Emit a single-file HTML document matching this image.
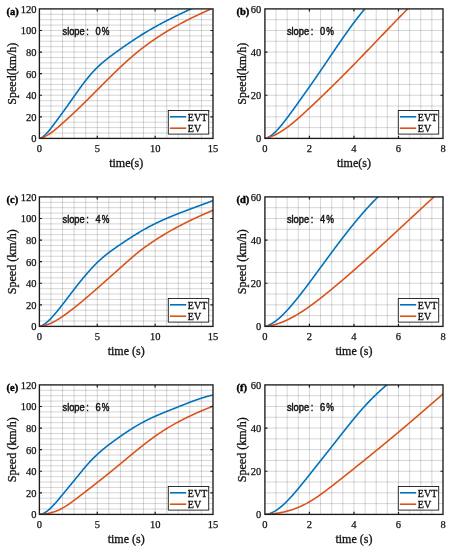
<!DOCTYPE html>
<html><head><meta charset="utf-8"><style>
*{margin:0;padding:0}
html,body{width:453px;height:550px;overflow:hidden;background:#fff}
svg{display:block;will-change:transform}
.tl{font-family:"Liberation Serif",serif;font-size:10.5px;fill:#111;stroke:#111;stroke-width:0.25px}
.al{font-family:"Liberation Serif",serif;font-size:12px;fill:#111;stroke:#111;stroke-width:0.3px}
.pl{font-family:"Liberation Serif",serif;font-size:10.5px;font-weight:bold;fill:#000;stroke:#000;stroke-width:0.4px}
.lg{font-family:"Liberation Serif",serif;font-size:10px;fill:#111;stroke:#111;stroke-width:0.3px}
.st{font-family:"Liberation Sans",sans-serif;font-size:10px;fill:#111;stroke:#111;stroke-width:0.45px}
</style></head>
<body><svg width="453" height="550" viewBox="0 0 453 550"><rect width="453" height="550" fill="#fff"/><clipPath id="c00"><rect x="39.4" y="8.9" width="173.6" height="129.5"/></clipPath><path d="M50.97 8.90V138.40M62.55 8.90V138.40M74.12 8.90V138.40M85.69 8.90V138.40M97.27 8.90V138.40M108.84 8.90V138.40M120.41 8.90V138.40M131.99 8.90V138.40M143.56 8.90V138.40M155.13 8.90V138.40M166.71 8.90V138.40M178.28 8.90V138.40M189.85 8.90V138.40M201.43 8.90V138.40" stroke="#000" stroke-opacity="0.165" stroke-width="1" fill="none"/><path d="M39.40 133.00H213.00M39.40 127.61H213.00M39.40 122.21H213.00M39.40 116.82H213.00M39.40 111.42H213.00M39.40 106.03H213.00M39.40 100.63H213.00M39.40 95.23H213.00M39.40 89.84H213.00M39.40 84.44H213.00M39.40 79.05H213.00M39.40 73.65H213.00M39.40 68.25H213.00M39.40 62.86H213.00M39.40 57.46H213.00M39.40 52.07H213.00M39.40 46.67H213.00M39.40 41.28H213.00M39.40 35.88H213.00M39.40 30.48H213.00M39.40 25.09H213.00M39.40 19.69H213.00M39.40 14.30H213.00" stroke="#000" stroke-opacity="0.165" stroke-width="1" fill="none"/><polyline points="39.40,138.40 39.81,138.30 40.21,138.18 40.62,138.03 41.02,137.85 41.43,137.65 41.84,137.43 42.24,137.18 42.65,136.91 43.05,136.62 43.46,136.31 43.87,135.99 44.27,135.64 44.68,135.28 45.09,134.90 45.49,134.51 45.90,134.10 46.30,133.68 46.71,133.24 47.12,132.80 47.52,132.34 47.93,131.87 48.33,131.39 48.74,130.91 49.15,130.42 49.55,129.92 49.96,129.42 50.36,128.91 50.77,128.39 51.18,127.88 51.58,127.35 51.99,126.83 52.39,126.29 52.80,125.76 53.21,125.23 53.61,124.69 54.02,124.15 54.43,123.60 54.83,123.06 55.24,122.51 55.64,121.97 56.05,121.42 56.46,120.88 56.86,120.33 57.27,119.78 57.67,119.24 58.08,118.69 58.49,118.14 58.89,117.59 59.30,117.04 59.70,116.49 60.11,115.94 60.52,115.39 60.92,114.84 61.33,114.28 61.73,113.73 62.14,113.18 62.55,112.62 62.95,112.06 63.36,111.51 63.76,110.95 64.17,110.39 64.58,109.83 64.98,109.26 65.39,108.70 65.80,108.14 66.20,107.57 66.61,107.01 67.01,106.44 67.42,105.87 67.83,105.30 68.23,104.73 68.64,104.15 69.04,103.58 69.45,103.00 69.86,102.43 70.26,101.85 70.67,101.27 71.07,100.70 71.48,100.12 71.89,99.54 72.29,98.96 72.70,98.38 73.10,97.80 73.51,97.23 73.92,96.65 74.32,96.07 74.73,95.49 75.14,94.92 75.54,94.34 75.95,93.76 76.35,93.19 76.76,92.62 77.17,92.04 77.57,91.47 77.98,90.90 78.38,90.34 78.79,89.77 79.20,89.21 79.60,88.64 80.01,88.08 80.41,87.52 80.82,86.97 81.23,86.41 81.63,85.86 82.04,85.31 82.44,84.76 82.85,84.22 83.26,83.68 83.66,83.14 84.07,82.60 84.48,82.07 84.88,81.54 85.29,81.01 85.69,80.49 86.10,79.97 86.51,79.46 86.91,78.94 87.32,78.44 87.72,77.93 88.13,77.43 88.54,76.94 88.94,76.45 89.35,75.96 89.75,75.48 90.16,75.00 90.57,74.53 90.97,74.06 91.38,73.60 91.78,73.15 92.19,72.69 92.60,72.25 93.00,71.80 93.41,71.37 93.81,70.93 94.22,70.51 94.63,70.08 95.03,69.66 95.44,69.25 95.85,68.84 96.25,68.43 96.66,68.03 97.06,67.63 97.47,67.24 97.88,66.85 98.28,66.46 98.69,66.08 99.09,65.70 99.50,65.32 99.91,64.95 100.31,64.58 100.72,64.22 101.12,63.86 101.53,63.50 101.94,63.14 102.34,62.79 102.75,62.44 103.15,62.10 103.56,61.75 103.97,61.41 104.37,61.08 104.78,60.74 105.19,60.41 105.59,60.08 106.00,59.75 106.40,59.43 106.81,59.10 107.22,58.78 107.62,58.46 108.03,58.15 108.43,57.83 108.84,57.52 109.25,57.21 109.65,56.90 110.06,56.59 110.46,56.28 110.87,55.98 111.28,55.67 111.68,55.37 112.09,55.07 112.49,54.77 112.90,54.47 113.31,54.17 113.71,53.88 114.12,53.58 114.53,53.28 114.93,52.99 115.34,52.70 115.74,52.40 116.15,52.11 116.56,51.82 116.96,51.52 117.37,51.23 117.77,50.94 118.18,50.65 118.59,50.36 118.99,50.07 119.40,49.78 119.80,49.49 120.21,49.20 120.62,48.91 121.02,48.63 121.43,48.34 121.83,48.05 122.24,47.77 122.65,47.48 123.05,47.20 123.46,46.91 123.87,46.63 124.27,46.35 124.68,46.06 125.08,45.78 125.49,45.50 125.90,45.22 126.30,44.94 126.71,44.66 127.11,44.38 127.52,44.10 127.93,43.82 128.33,43.54 128.74,43.27 129.14,42.99 129.55,42.72 129.96,42.44 130.36,42.17 130.77,41.89 131.17,41.62 131.58,41.35 131.99,41.08 132.39,40.81 132.80,40.54 133.20,40.27 133.61,40.00 134.02,39.73 134.42,39.46 134.83,39.20 135.24,38.93 135.64,38.67 136.05,38.40 136.45,38.14 136.86,37.87 137.27,37.61 137.67,37.35 138.08,37.09 138.48,36.83 138.89,36.57 139.30,36.32 139.70,36.06 140.11,35.80 140.51,35.55 140.92,35.29 141.33,35.04 141.73,34.79 142.14,34.53 142.54,34.28 142.95,34.03 143.36,33.78 143.76,33.53 144.17,33.29 144.58,33.04 144.98,32.79 145.39,32.55 145.79,32.30 146.20,32.06 146.61,31.82 147.01,31.57 147.42,31.33 147.82,31.09 148.23,30.85 148.64,30.61 149.04,30.37 149.45,30.13 149.85,29.90 150.26,29.66 150.67,29.43 151.07,29.19 151.48,28.96 151.88,28.72 152.29,28.49 152.70,28.26 153.10,28.03 153.51,27.80 153.92,27.57 154.32,27.34 154.73,27.11 155.13,26.88 155.54,26.65 155.95,26.43 156.35,26.20 156.76,25.98 157.16,25.75 157.57,25.53 157.98,25.30 158.38,25.08 158.79,24.86 159.19,24.64 159.60,24.42 160.01,24.20 160.41,23.98 160.82,23.76 161.22,23.54 161.63,23.32 162.04,23.11 162.44,22.89 162.85,22.67 163.25,22.46 163.66,22.24 164.07,22.03 164.47,21.82 164.88,21.60 165.29,21.39 165.69,21.18 166.10,20.97 166.50,20.76 166.91,20.55 167.32,20.34 167.72,20.13 168.13,19.92 168.53,19.71 168.94,19.51 169.35,19.30 169.75,19.09 170.16,18.89 170.56,18.68 170.97,18.48 171.38,18.27 171.78,18.07 172.19,17.87 172.59,17.66 173.00,17.46 173.41,17.26 173.81,17.06 174.22,16.86 174.63,16.66 175.03,16.46 175.44,16.26 175.84,16.06 176.25,15.86 176.66,15.66 177.06,15.47 177.47,15.27 177.87,15.07 178.28,14.87 178.69,14.68 179.09,14.48 179.50,14.29 179.90,14.09 180.31,13.90 180.72,13.71 181.12,13.51 181.53,13.32 181.93,13.13 182.34,12.93 182.75,12.74 183.15,12.55 183.56,12.36 183.97,12.17 184.37,11.98 184.78,11.79 185.18,11.60 185.59,11.41 186.00,11.22 186.40,11.03 186.81,10.84 187.21,10.66 187.62,10.47 188.03,10.28 188.43,10.09 188.84,9.91 189.24,9.72 189.65,9.54 190.06,9.35 190.46,9.16 190.87,8.98 191.27,8.79 191.68,8.61 192.09,8.43 192.49,8.24 192.90,8.06 193.31,7.87 193.71,7.69 194.12,7.51 194.52,7.32 194.93,7.14 195.34,6.96 195.74,6.78 196.15,6.60 196.55,6.41 196.96,6.23 197.37,6.05 197.77,5.87 198.18,5.69 198.58,5.51 198.99,5.33 199.40,5.15 199.80,4.97 200.21,4.79 200.61,4.61 201.02,4.43 201.43,4.25" fill="none" stroke="#0072BD" stroke-width="1.6" clip-path="url(#c00)"/><polyline points="39.40,138.40 39.85,138.31 40.30,138.20 40.75,138.09 41.20,137.96 41.65,137.83 42.10,137.68 42.55,137.52 43.00,137.35 43.45,137.17 43.90,136.98 44.35,136.78 44.80,136.58 45.24,136.36 45.69,136.13 46.14,135.90 46.59,135.66 47.04,135.40 47.49,135.14 47.94,134.88 48.39,134.60 48.84,134.32 49.29,134.03 49.74,133.73 50.19,133.43 50.64,133.12 51.09,132.80 51.54,132.48 51.99,132.15 52.44,131.81 52.89,131.47 53.34,131.13 53.79,130.78 54.24,130.42 54.69,130.06 55.14,129.70 55.59,129.33 56.03,128.96 56.48,128.58 56.93,128.20 57.38,127.82 57.83,127.43 58.28,127.05 58.73,126.65 59.18,126.26 59.63,125.86 60.08,125.47 60.53,125.07 60.98,124.67 61.43,124.26 61.88,123.86 62.33,123.45 62.78,123.05 63.23,122.64 63.68,122.24 64.13,121.83 64.58,121.42 65.03,121.01 65.48,120.60 65.93,120.20 66.38,119.79 66.83,119.37 67.27,118.96 67.72,118.55 68.17,118.14 68.62,117.73 69.07,117.31 69.52,116.90 69.97,116.48 70.42,116.07 70.87,115.65 71.32,115.23 71.77,114.81 72.22,114.39 72.67,113.97 73.12,113.55 73.57,113.13 74.02,112.71 74.47,112.29 74.92,111.86 75.37,111.44 75.82,111.01 76.27,110.59 76.72,110.16 77.17,109.73 77.62,109.30 78.06,108.87 78.51,108.44 78.96,108.01 79.41,107.58 79.86,107.15 80.31,106.71 80.76,106.28 81.21,105.84 81.66,105.41 82.11,104.97 82.56,104.53 83.01,104.09 83.46,103.65 83.91,103.21 84.36,102.77 84.81,102.33 85.26,101.89 85.71,101.45 86.16,101.00 86.61,100.56 87.06,100.11 87.51,99.67 87.96,99.22 88.41,98.78 88.85,98.33 89.30,97.88 89.75,97.43 90.20,96.99 90.65,96.54 91.10,96.09 91.55,95.64 92.00,95.19 92.45,94.74 92.90,94.29 93.35,93.84 93.80,93.39 94.25,92.94 94.70,92.49 95.15,92.04 95.60,91.58 96.05,91.13 96.50,90.68 96.95,90.23 97.40,89.78 97.85,89.33 98.30,88.88 98.75,88.42 99.20,87.97 99.65,87.52 100.09,87.07 100.54,86.62 100.99,86.17 101.44,85.71 101.89,85.26 102.34,84.81 102.79,84.36 103.24,83.91 103.69,83.46 104.14,83.01 104.59,82.56 105.04,82.11 105.49,81.66 105.94,81.22 106.39,80.77 106.84,80.32 107.29,79.87 107.74,79.43 108.19,78.98 108.64,78.53 109.09,78.09 109.54,77.64 109.99,77.20 110.44,76.76 110.88,76.31 111.33,75.87 111.78,75.43 112.23,74.99 112.68,74.55 113.13,74.11 113.58,73.67 114.03,73.23 114.48,72.79 114.93,72.36 115.38,71.92 115.83,71.49 116.28,71.05 116.73,70.62 117.18,70.19 117.63,69.75 118.08,69.32 118.53,68.90 118.98,68.47 119.43,68.04 119.88,67.61 120.33,67.19 120.78,66.76 121.23,66.34 121.68,65.92 122.12,65.50 122.57,65.08 123.02,64.66 123.47,64.25 123.92,63.83 124.37,63.42 124.82,63.00 125.27,62.59 125.72,62.18 126.17,61.77 126.62,61.36 127.07,60.96 127.52,60.55 127.97,60.15 128.42,59.75 128.87,59.35 129.32,58.95 129.77,58.55 130.22,58.16 130.67,57.76 131.12,57.37 131.57,56.98 132.02,56.59 132.47,56.20 132.91,55.82 133.36,55.43 133.81,55.05 134.26,54.67 134.71,54.29 135.16,53.92 135.61,53.54 136.06,53.17 136.51,52.80 136.96,52.43 137.41,52.06 137.86,51.70 138.31,51.33 138.76,50.97 139.21,50.61 139.66,50.25 140.11,49.90 140.56,49.54 141.01,49.19 141.46,48.84 141.91,48.49 142.36,48.15 142.81,47.80 143.26,47.46 143.71,47.12 144.15,46.78 144.60,46.44 145.05,46.10 145.50,45.77 145.95,45.43 146.40,45.10 146.85,44.77 147.30,44.44 147.75,44.12 148.20,43.79 148.65,43.47 149.10,43.15 149.55,42.83 150.00,42.51 150.45,42.19 150.90,41.87 151.35,41.56 151.80,41.24 152.25,40.93 152.70,40.62 153.15,40.31 153.60,40.00 154.05,39.70 154.50,39.39 154.94,39.09 155.39,38.78 155.84,38.48 156.29,38.18 156.74,37.88 157.19,37.58 157.64,37.28 158.09,36.99 158.54,36.69 158.99,36.40 159.44,36.11 159.89,35.82 160.34,35.53 160.79,35.24 161.24,34.95 161.69,34.67 162.14,34.38 162.59,34.10 163.04,33.81 163.49,33.53 163.94,33.25 164.39,32.97 164.84,32.70 165.29,32.42 165.73,32.14 166.18,31.87 166.63,31.59 167.08,31.32 167.53,31.05 167.98,30.78 168.43,30.51 168.88,30.24 169.33,29.97 169.78,29.71 170.23,29.44 170.68,29.18 171.13,28.92 171.58,28.65 172.03,28.39 172.48,28.13 172.93,27.88 173.38,27.62 173.83,27.36 174.28,27.11 174.73,26.85 175.18,26.60 175.63,26.34 176.08,26.09 176.53,25.84 176.97,25.59 177.42,25.34 177.87,25.10 178.32,24.85 178.77,24.60 179.22,24.36 179.67,24.11 180.12,23.87 180.57,23.63 181.02,23.39 181.47,23.15 181.92,22.91 182.37,22.67 182.82,22.43 183.27,22.20 183.72,21.96 184.17,21.73 184.62,21.49 185.07,21.26 185.52,21.03 185.97,20.80 186.42,20.56 186.87,20.34 187.32,20.11 187.76,19.88 188.21,19.65 188.66,19.43 189.11,19.20 189.56,18.98 190.01,18.75 190.46,18.53 190.91,18.31 191.36,18.09 191.81,17.86 192.26,17.64 192.71,17.43 193.16,17.21 193.61,16.99 194.06,16.77 194.51,16.56 194.96,16.34 195.41,16.13 195.86,15.91 196.31,15.70 196.76,15.48 197.21,15.27 197.66,15.06 198.11,14.85 198.56,14.64 199.00,14.43 199.45,14.22 199.90,14.01 200.35,13.80 200.80,13.59 201.25,13.38 201.70,13.18 202.15,12.97 202.60,12.76 203.05,12.56 203.50,12.35 203.95,12.15 204.40,11.94 204.85,11.74 205.30,11.53 205.75,11.33 206.20,11.13 206.65,10.92 207.10,10.72 207.55,10.52 208.00,10.32 208.45,10.11 208.90,9.91 209.35,9.71 209.79,9.51 210.24,9.31 210.69,9.11 211.14,8.91 211.59,8.71 212.04,8.51 212.49,8.31 212.94,8.11 213.39,7.91 213.84,7.71 214.29,7.51 214.74,7.31 215.19,7.11 215.64,6.91 216.09,6.72 216.54,6.52 216.99,6.32 217.44,6.12 217.89,5.92 218.34,5.72 218.79,5.52" fill="none" stroke="#D95319" stroke-width="1.6" clip-path="url(#c00)"/><rect x="39.4" y="8.9" width="173.6" height="129.5" fill="none" stroke="#1c1c1c" stroke-width="1.35"/><path d="M97.27 138.40v-2.6M97.27 8.90v2.6M155.13 138.40v-2.6M155.13 8.90v2.6M39.40 116.82h2.6M213.00 116.82h-2.6M39.40 95.23h2.6M213.00 95.23h-2.6M39.40 73.65h2.6M213.00 73.65h-2.6M39.40 52.07h2.6M213.00 52.07h-2.6M39.40 30.48h2.6M213.00 30.48h-2.6" stroke="#1c1c1c" stroke-width="1.2" fill="none"/><text x="39.40" y="152.00" class="tl" text-anchor="middle">0</text><text x="97.27" y="152.00" class="tl" text-anchor="middle">5</text><text x="155.13" y="152.00" class="tl" text-anchor="middle">10</text><text x="213.00" y="152.00" class="tl" text-anchor="middle">15</text><text x="36.40" y="142.30" class="tl" text-anchor="end">0</text><text x="36.40" y="120.72" class="tl" text-anchor="end">20</text><text x="36.40" y="99.13" class="tl" text-anchor="end">40</text><text x="36.40" y="77.55" class="tl" text-anchor="end">60</text><text x="36.40" y="55.97" class="tl" text-anchor="end">80</text><text x="36.40" y="34.38" class="tl" text-anchor="end">100</text><text x="36.40" y="12.80" class="tl" text-anchor="end">120</text><text x="126.20" y="167.20" class="al" text-anchor="middle">time(s)</text><text transform="translate(15.50,73.65) rotate(-90)" x="0" y="0" class="al" text-anchor="middle">Speed(km/h)</text><text x="6.6" y="14.50" class="pl">(a)</text><text transform="translate(62.50,34.50) scale(0.93,1)" class="st">slope</text><text transform="translate(86.30,34.50) scale(0.93,1)" class="st">:</text><text transform="translate(95.60,34.50) scale(0.93,1)" class="st">0</text><text transform="translate(101.80,34.50) scale(0.86,1)" class="st">%</text><rect x="168.30" y="110.50" width="40.4" height="23.6" fill="#fff" stroke="#1a1a1a" stroke-width="0.9"/><path d="M169.90 116.80h16.3" stroke="#0072BD" stroke-width="1.6"/><path d="M169.90 128.20h16.3" stroke="#D95319" stroke-width="1.6"/><text x="187.80" y="120.60" class="lg">EVT</text><text x="187.80" y="131.70" class="lg">EV</text><clipPath id="c01"><rect x="264.9" y="8.9" width="178.10000000000002" height="129.5"/></clipPath><path d="M276.03 8.90V138.40M287.16 8.90V138.40M298.29 8.90V138.40M309.42 8.90V138.40M320.56 8.90V138.40M331.69 8.90V138.40M342.82 8.90V138.40M353.95 8.90V138.40M365.08 8.90V138.40M376.21 8.90V138.40M387.34 8.90V138.40M398.48 8.90V138.40M409.61 8.90V138.40M420.74 8.90V138.40M431.87 8.90V138.40" stroke="#000" stroke-opacity="0.165" stroke-width="1" fill="none"/><path d="M264.90 127.61H443.00M264.90 116.82H443.00M264.90 106.03H443.00M264.90 95.23H443.00M264.90 84.44H443.00M264.90 73.65H443.00M264.90 62.86H443.00M264.90 52.07H443.00M264.90 41.28H443.00M264.90 30.48H443.00M264.90 19.69H443.00" stroke="#000" stroke-opacity="0.165" stroke-width="1" fill="none"/><polyline points="264.90,138.40 265.37,138.29 265.85,138.16 266.32,138.00 266.80,137.83 267.27,137.64 267.75,137.43 268.22,137.20 268.69,136.96 269.17,136.70 269.64,136.42 270.12,136.12 270.59,135.81 271.07,135.48 271.54,135.14 272.01,134.78 272.49,134.41 272.96,134.02 273.44,133.62 273.91,133.21 274.39,132.78 274.86,132.34 275.33,131.89 275.81,131.43 276.28,130.95 276.76,130.47 277.23,129.97 277.71,129.47 278.18,128.95 278.65,128.43 279.13,127.89 279.60,127.35 280.08,126.80 280.55,126.24 281.02,125.68 281.50,125.11 281.97,124.53 282.45,123.94 282.92,123.35 283.40,122.76 283.87,122.15 284.34,121.55 284.82,120.94 285.29,120.33 285.77,119.71 286.24,119.09 286.72,118.46 287.19,117.83 287.66,117.20 288.14,116.57 288.61,115.93 289.09,115.29 289.56,114.65 290.04,114.00 290.51,113.35 290.98,112.70 291.46,112.05 291.93,111.40 292.41,110.74 292.88,110.08 293.36,109.43 293.83,108.77 294.30,108.11 294.78,107.45 295.25,106.79 295.73,106.12 296.20,105.46 296.68,104.80 297.15,104.14 297.62,103.47 298.10,102.81 298.57,102.15 299.05,101.48 299.52,100.82 300.00,100.15 300.47,99.49 300.94,98.82 301.42,98.16 301.89,97.49 302.37,96.82 302.84,96.16 303.32,95.49 303.79,94.82 304.26,94.15 304.74,93.48 305.21,92.81 305.69,92.14 306.16,91.47 306.64,90.80 307.11,90.13 307.58,89.46 308.06,88.78 308.53,88.11 309.01,87.43 309.48,86.76 309.96,86.08 310.43,85.41 310.90,84.73 311.38,84.05 311.85,83.37 312.33,82.69 312.80,82.01 313.27,81.33 313.75,80.65 314.22,79.97 314.70,79.28 315.17,78.60 315.65,77.91 316.12,77.23 316.59,76.54 317.07,75.85 317.54,75.16 318.02,74.48 318.49,73.78 318.97,73.09 319.44,72.40 319.91,71.71 320.39,71.01 320.86,70.32 321.34,69.62 321.81,68.92 322.29,68.23 322.76,67.53 323.23,66.83 323.71,66.13 324.18,65.43 324.66,64.73 325.13,64.03 325.61,63.32 326.08,62.62 326.55,61.92 327.03,61.22 327.50,60.52 327.98,59.81 328.45,59.11 328.93,58.41 329.40,57.71 329.87,57.00 330.35,56.30 330.82,55.60 331.30,54.90 331.77,54.19 332.25,53.49 332.72,52.79 333.19,52.09 333.67,51.39 334.14,50.69 334.62,49.99 335.09,49.29 335.57,48.60 336.04,47.90 336.51,47.20 336.99,46.51 337.46,45.81 337.94,45.12 338.41,44.43 338.89,43.73 339.36,43.04 339.83,42.35 340.31,41.67 340.78,40.98 341.26,40.29 341.73,39.61 342.20,38.92 342.68,38.24 343.15,37.56 343.63,36.88 344.10,36.21 344.58,35.53 345.05,34.86 345.52,34.18 346.00,33.51 346.47,32.84 346.95,32.18 347.42,31.51 347.90,30.85 348.37,30.19 348.84,29.53 349.32,28.87 349.79,28.22 350.27,27.57 350.74,26.92 351.22,26.27 351.69,25.62 352.16,24.98 352.64,24.34 353.11,23.70 353.59,23.06 354.06,22.43 354.54,21.80 355.01,21.17 355.48,20.55 355.96,19.93 356.43,19.31 356.91,18.69 357.38,18.08 357.86,17.47 358.33,16.86 358.80,16.26 359.28,15.65 359.75,15.06 360.23,14.46 360.70,13.87 361.18,13.28 361.65,12.70 362.12,12.12 362.60,11.54 363.07,10.97 363.55,10.40 364.02,9.83 364.50,9.27 364.97,8.71 365.44,8.15 365.92,7.60 366.39,7.05 366.87,6.51 367.34,5.97 367.82,5.43 368.29,4.89 368.76,4.36 369.24,3.84 369.71,3.31 370.19,2.79 370.66,2.28 371.14,1.76 371.61,1.25 372.08,0.75 372.56,0.24 373.03,-0.26 373.51,-0.75 373.98,-1.25 374.45,-1.74 374.93,-2.23 375.40,-2.71 375.88,-3.20 376.35,-3.67 376.83,-4.15 377.30,-4.62 377.77,-5.09 378.25,-5.56 378.72,-6.03 379.20,-6.49 379.67,-6.95 380.15,-7.40 380.62,-7.86 381.09,-8.31 381.57,-8.76 382.04,-9.21 382.52,-9.65 382.99,-10.09 383.47,-10.53 383.94,-10.97 384.41,-11.40 384.89,-11.83 385.36,-12.26 385.84,-12.69 386.31,-13.11 386.79,-13.54 387.26,-13.96 387.73,-14.38 388.21,-14.79 388.68,-15.21 389.16,-15.62 389.63,-16.03 390.11,-16.44 390.58,-16.85 391.05,-17.25 391.53,-17.65 392.00,-18.05 392.48,-18.45 392.95,-18.85 393.43,-19.25 393.90,-19.64 394.37,-20.03 394.85,-20.43 395.32,-20.81 395.80,-21.20 396.27,-21.59 396.75,-21.97 397.22,-22.36 397.69,-22.74 398.17,-23.12 398.64,-23.50 399.12,-23.88 399.59,-24.25 400.07,-24.63 400.54,-25.00 401.01,-25.38 401.49,-25.75 401.96,-26.12 402.44,-26.49 402.91,-26.86 403.39,-27.23 403.86,-27.59 404.33,-27.96 404.81,-28.33 405.28,-28.69 405.76,-29.05 406.23,-29.42 406.70,-29.78 407.18,-30.14 407.65,-30.50 408.13,-30.86 408.60,-31.22 409.08,-31.58 409.55,-31.94 410.02,-32.29 410.50,-32.65 410.97,-33.01 411.45,-33.37 411.92,-33.72 412.40,-34.08 412.87,-34.43 413.34,-34.79 413.82,-35.14 414.29,-35.50 414.77,-35.85 415.24,-36.21 415.72,-36.56 416.19,-36.91 416.66,-37.27 417.14,-37.62 417.61,-37.97 418.09,-38.32 418.56,-38.67 419.04,-39.02 419.51,-39.38 419.98,-39.73 420.46,-40.08 420.93,-40.43 421.41,-40.78 421.88,-41.12 422.36,-41.47 422.83,-41.82 423.30,-42.17 423.78,-42.52 424.25,-42.86 424.73,-43.21 425.20,-43.56 425.68,-43.90 426.15,-44.25 426.62,-44.59 427.10,-44.94 427.57,-45.28 428.05,-45.63 428.52,-45.97 429.00,-46.32 429.47,-46.66 429.94,-47.00 430.42,-47.34 430.89,-47.68 431.37,-48.02 431.84,-48.37 432.32,-48.71 432.79,-49.05 433.26,-49.38 433.74,-49.72 434.21,-50.06 434.69,-50.40 435.16,-50.74 435.63,-51.07 436.11,-51.41 436.58,-51.75 437.06,-52.08 437.53,-52.42 438.01,-52.75 438.48,-53.09 438.95,-53.42 439.43,-53.75 439.90,-54.09 440.38,-54.42 440.85,-54.75 441.33,-55.08 441.80,-55.41 442.27,-55.74 442.75,-56.07 443.22,-56.40 443.70,-56.73 444.17,-57.06 444.65,-57.39 445.12,-57.71 445.59,-58.04 446.07,-58.37 446.54,-58.69 447.02,-59.02 447.49,-59.34 447.97,-59.67 448.44,-59.99 448.91,-60.31 449.39,-60.63 449.86,-60.96 450.34,-61.28 450.81,-61.60 451.29,-61.92 451.76,-62.24 452.23,-62.56 452.71,-62.87 453.18,-63.19 453.66,-63.51 454.13,-63.83" fill="none" stroke="#0072BD" stroke-width="1.6" clip-path="url(#c01)"/><polyline points="264.90,138.40 265.37,138.30 265.85,138.20 266.32,138.09 266.80,137.97 267.27,137.84 267.75,137.71 268.22,137.57 268.69,137.42 269.17,137.27 269.64,137.11 270.12,136.95 270.59,136.77 271.07,136.60 271.54,136.41 272.01,136.22 272.49,136.03 272.96,135.82 273.44,135.61 273.91,135.40 274.39,135.18 274.86,134.96 275.33,134.73 275.81,134.49 276.28,134.25 276.76,134.00 277.23,133.75 277.71,133.49 278.18,133.23 278.65,132.96 279.13,132.68 279.60,132.41 280.08,132.12 280.55,131.84 281.02,131.54 281.50,131.25 281.97,130.94 282.45,130.64 282.92,130.33 283.40,130.01 283.87,129.69 284.34,129.37 284.82,129.04 285.29,128.71 285.77,128.37 286.24,128.03 286.72,127.69 287.19,127.34 287.66,126.99 288.14,126.64 288.61,126.28 289.09,125.92 289.56,125.55 290.04,125.18 290.51,124.81 290.98,124.44 291.46,124.06 291.93,123.68 292.41,123.29 292.88,122.90 293.36,122.51 293.83,122.12 294.30,121.73 294.78,121.33 295.25,120.93 295.73,120.52 296.20,120.12 296.68,119.71 297.15,119.30 297.62,118.89 298.10,118.47 298.57,118.05 299.05,117.64 299.52,117.22 300.00,116.79 300.47,116.37 300.94,115.94 301.42,115.51 301.89,115.09 302.37,114.65 302.84,114.22 303.32,113.79 303.79,113.35 304.26,112.92 304.74,112.48 305.21,112.04 305.69,111.60 306.16,111.16 306.64,110.72 307.11,110.28 307.58,109.84 308.06,109.40 308.53,108.95 309.01,108.51 309.48,108.06 309.96,107.62 310.43,107.17 310.90,106.73 311.38,106.28 311.85,105.84 312.33,105.39 312.80,104.94 313.27,104.50 313.75,104.05 314.22,103.60 314.70,103.15 315.17,102.70 315.65,102.26 316.12,101.81 316.59,101.36 317.07,100.91 317.54,100.46 318.02,100.00 318.49,99.55 318.97,99.10 319.44,98.65 319.91,98.20 320.39,97.74 320.86,97.29 321.34,96.84 321.81,96.38 322.29,95.93 322.76,95.47 323.23,95.02 323.71,94.56 324.18,94.11 324.66,93.65 325.13,93.19 325.61,92.74 326.08,92.28 326.55,91.82 327.03,91.36 327.50,90.90 327.98,90.44 328.45,89.98 328.93,89.52 329.40,89.06 329.87,88.60 330.35,88.14 330.82,87.67 331.30,87.21 331.77,86.75 332.25,86.28 332.72,85.82 333.19,85.35 333.67,84.89 334.14,84.42 334.62,83.96 335.09,83.49 335.57,83.02 336.04,82.55 336.51,82.09 336.99,81.62 337.46,81.15 337.94,80.68 338.41,80.21 338.89,79.74 339.36,79.27 339.83,78.79 340.31,78.32 340.78,77.85 341.26,77.38 341.73,76.90 342.20,76.43 342.68,75.95 343.15,75.48 343.63,75.00 344.10,74.52 344.58,74.05 345.05,73.57 345.52,73.09 346.00,72.61 346.47,72.13 346.95,71.65 347.42,71.17 347.90,70.69 348.37,70.21 348.84,69.73 349.32,69.25 349.79,68.77 350.27,68.28 350.74,67.80 351.22,67.32 351.69,66.83 352.16,66.35 352.64,65.86 353.11,65.38 353.59,64.89 354.06,64.41 354.54,63.92 355.01,63.43 355.48,62.94 355.96,62.46 356.43,61.97 356.91,61.48 357.38,60.99 357.86,60.50 358.33,60.02 358.80,59.53 359.28,59.04 359.75,58.55 360.23,58.06 360.70,57.57 361.18,57.07 361.65,56.58 362.12,56.09 362.60,55.60 363.07,55.11 363.55,54.62 364.02,54.12 364.50,53.63 364.97,53.14 365.44,52.65 365.92,52.15 366.39,51.66 366.87,51.17 367.34,50.67 367.82,50.18 368.29,49.69 368.76,49.19 369.24,48.70 369.71,48.20 370.19,47.71 370.66,47.21 371.14,46.72 371.61,46.23 372.08,45.73 372.56,45.24 373.03,44.74 373.51,44.25 373.98,43.75 374.45,43.26 374.93,42.76 375.40,42.26 375.88,41.77 376.35,41.27 376.83,40.78 377.30,40.28 377.77,39.79 378.25,39.29 378.72,38.80 379.20,38.30 379.67,37.81 380.15,37.31 380.62,36.82 381.09,36.32 381.57,35.82 382.04,35.33 382.52,34.83 382.99,34.34 383.47,33.84 383.94,33.35 384.41,32.85 384.89,32.36 385.36,31.87 385.84,31.37 386.31,30.88 386.79,30.38 387.26,29.89 387.73,29.39 388.21,28.90 388.68,28.41 389.16,27.91 389.63,27.42 390.11,26.93 390.58,26.43 391.05,25.94 391.53,25.45 392.00,24.96 392.48,24.47 392.95,23.97 393.43,23.48 393.90,22.99 394.37,22.50 394.85,22.01 395.32,21.52 395.80,21.03 396.27,20.54 396.75,20.05 397.22,19.56 397.69,19.07 398.17,18.58 398.64,18.09 399.12,17.60 399.59,17.12 400.07,16.63 400.54,16.14 401.01,15.65 401.49,15.17 401.96,14.68 402.44,14.20 402.91,13.71 403.39,13.23 403.86,12.74 404.33,12.26 404.81,11.77 405.28,11.29 405.76,10.81 406.23,10.32 406.70,9.84 407.18,9.36 407.65,8.88 408.13,8.40 408.60,7.92 409.08,7.44 409.55,6.96 410.02,6.48 410.50,6.00 410.97,5.52 411.45,5.05 411.92,4.57 412.40,4.09 412.87,3.62 413.34,3.14 413.82,2.67 414.29,2.19 414.77,1.72 415.24,1.25 415.72,0.78 416.19,0.30 416.66,-0.17 417.14,-0.64 417.61,-1.11 418.09,-1.58 418.56,-2.05 419.04,-2.51 419.51,-2.98 419.98,-3.45 420.46,-3.91 420.93,-4.38 421.41,-4.84 421.88,-5.31 422.36,-5.77 422.83,-6.23 423.30,-6.70 423.78,-7.16 424.25,-7.62 424.73,-8.08 425.20,-8.54 425.68,-8.99 426.15,-9.45 426.62,-9.91 427.10,-10.37 427.57,-10.82 428.05,-11.28 428.52,-11.73 429.00,-12.18 429.47,-12.63 429.94,-13.09 430.42,-13.54 430.89,-13.99 431.37,-14.44 431.84,-14.88 432.32,-15.33 432.79,-15.78 433.26,-16.22 433.74,-16.67 434.21,-17.11 434.69,-17.55 435.16,-18.00 435.63,-18.44 436.11,-18.88 436.58,-19.32 437.06,-19.76 437.53,-20.19 438.01,-20.63 438.48,-21.07 438.95,-21.50 439.43,-21.93 439.90,-22.37 440.38,-22.80 440.85,-23.23 441.33,-23.66 441.80,-24.09 442.27,-24.52 442.75,-24.94 443.22,-25.37 443.70,-25.79 444.17,-26.22 444.65,-26.64 445.12,-27.06 445.59,-27.48 446.07,-27.90 446.54,-28.32 447.02,-28.74 447.49,-29.15 447.97,-29.57 448.44,-29.98 448.91,-30.40 449.39,-30.81 449.86,-31.22 450.34,-31.63 450.81,-32.04 451.29,-32.45 451.76,-32.85 452.23,-33.26 452.71,-33.66 453.18,-34.06 453.66,-34.47 454.13,-34.87" fill="none" stroke="#D95319" stroke-width="1.6" clip-path="url(#c01)"/><rect x="264.9" y="8.9" width="178.10000000000002" height="129.5" fill="none" stroke="#1c1c1c" stroke-width="1.35"/><path d="M309.42 138.40v-2.6M309.42 8.90v2.6M353.95 138.40v-2.6M353.95 8.90v2.6M398.48 138.40v-2.6M398.48 8.90v2.6M264.90 95.23h2.6M443.00 95.23h-2.6M264.90 52.07h2.6M443.00 52.07h-2.6" stroke="#1c1c1c" stroke-width="1.2" fill="none"/><text x="264.90" y="152.00" class="tl" text-anchor="middle">0</text><text x="309.42" y="152.00" class="tl" text-anchor="middle">2</text><text x="353.95" y="152.00" class="tl" text-anchor="middle">4</text><text x="398.48" y="152.00" class="tl" text-anchor="middle">6</text><text x="443.00" y="152.00" class="tl" text-anchor="middle">8</text><text x="261.30" y="142.30" class="tl" text-anchor="end">0</text><text x="261.30" y="99.13" class="tl" text-anchor="end">20</text><text x="261.30" y="55.97" class="tl" text-anchor="end">40</text><text x="261.30" y="12.80" class="tl" text-anchor="end">60</text><text x="353.95" y="167.20" class="al" text-anchor="middle">time(s)</text><text transform="translate(246.00,73.65) rotate(-90)" x="0" y="0" class="al" text-anchor="middle">Speed(km/h)</text><text x="236.5" y="14.50" class="pl">(b)</text><text transform="translate(286.90,34.50) scale(0.93,1)" class="st">slope</text><text transform="translate(310.70,34.50) scale(0.93,1)" class="st">:</text><text transform="translate(320.00,34.50) scale(0.93,1)" class="st">0</text><text transform="translate(326.20,34.50) scale(0.86,1)" class="st">%</text><rect x="398.30" y="110.50" width="40.4" height="23.6" fill="#fff" stroke="#1a1a1a" stroke-width="0.9"/><path d="M399.90 116.80h16.3" stroke="#0072BD" stroke-width="1.6"/><path d="M399.90 128.20h16.3" stroke="#D95319" stroke-width="1.6"/><text x="417.80" y="120.60" class="lg">EVT</text><text x="417.80" y="131.70" class="lg">EV</text><clipPath id="c10"><rect x="39.4" y="196.9" width="173.6" height="129.49999999999997"/></clipPath><path d="M50.97 196.90V326.40M62.55 196.90V326.40M74.12 196.90V326.40M85.69 196.90V326.40M97.27 196.90V326.40M108.84 196.90V326.40M120.41 196.90V326.40M131.99 196.90V326.40M143.56 196.90V326.40M155.13 196.90V326.40M166.71 196.90V326.40M178.28 196.90V326.40M189.85 196.90V326.40M201.43 196.90V326.40" stroke="#000" stroke-opacity="0.165" stroke-width="1" fill="none"/><path d="M39.40 321.00H213.00M39.40 315.61H213.00M39.40 310.21H213.00M39.40 304.82H213.00M39.40 299.42H213.00M39.40 294.02H213.00M39.40 288.63H213.00M39.40 283.23H213.00M39.40 277.84H213.00M39.40 272.44H213.00M39.40 267.05H213.00M39.40 261.65H213.00M39.40 256.25H213.00M39.40 250.86H213.00M39.40 245.46H213.00M39.40 240.07H213.00M39.40 234.67H213.00M39.40 229.27H213.00M39.40 223.88H213.00M39.40 218.48H213.00M39.40 213.09H213.00M39.40 207.69H213.00M39.40 202.30H213.00" stroke="#000" stroke-opacity="0.165" stroke-width="1" fill="none"/><polyline points="39.40,326.40 39.84,326.29 40.27,326.17 40.71,326.02 41.14,325.86 41.58,325.68 42.01,325.48 42.45,325.26 42.88,325.03 43.32,324.79 43.75,324.53 44.19,324.25 44.62,323.96 45.06,323.65 45.49,323.34 45.93,323.00 46.36,322.66 46.80,322.30 47.23,321.94 47.67,321.56 48.10,321.17 48.54,320.77 48.97,320.36 49.41,319.93 49.84,319.51 50.28,319.07 50.71,318.62 51.15,318.17 51.58,317.71 52.02,317.24 52.45,316.76 52.89,316.28 53.32,315.80 53.76,315.30 54.19,314.81 54.63,314.31 55.06,313.80 55.50,313.29 55.93,312.77 56.37,312.25 56.80,311.73 57.24,311.20 57.67,310.67 58.11,310.13 58.54,309.60 58.98,309.05 59.41,308.51 59.85,307.96 60.28,307.41 60.72,306.86 61.15,306.30 61.59,305.75 62.02,305.19 62.46,304.63 62.89,304.06 63.33,303.50 63.76,302.93 64.20,302.37 64.64,301.80 65.07,301.23 65.51,300.66 65.94,300.09 66.38,299.52 66.81,298.95 67.25,298.38 67.68,297.81 68.12,297.24 68.55,296.67 68.99,296.10 69.42,295.53 69.86,294.96 70.29,294.39 70.73,293.82 71.16,293.25 71.60,292.68 72.03,292.12 72.47,291.55 72.90,290.98 73.34,290.42 73.77,289.85 74.21,289.29 74.64,288.73 75.08,288.17 75.51,287.61 75.95,287.05 76.38,286.49 76.82,285.94 77.25,285.38 77.69,284.83 78.12,284.28 78.56,283.73 78.99,283.18 79.43,282.64 79.86,282.09 80.30,281.55 80.73,281.01 81.17,280.47 81.60,279.93 82.04,279.40 82.47,278.87 82.91,278.34 83.34,277.81 83.78,277.29 84.21,276.76 84.65,276.25 85.08,275.73 85.52,275.21 85.95,274.70 86.39,274.19 86.82,273.69 87.26,273.18 87.69,272.68 88.13,272.19 88.56,271.69 89.00,271.20 89.44,270.71 89.87,270.23 90.31,269.74 90.74,269.27 91.18,268.79 91.61,268.32 92.05,267.85 92.48,267.39 92.92,266.93 93.35,266.47 93.79,266.01 94.22,265.56 94.66,265.12 95.09,264.67 95.53,264.24 95.96,263.80 96.40,263.37 96.83,262.94 97.27,262.52 97.70,262.10 98.14,261.69 98.57,261.28 99.01,260.87 99.44,260.47 99.88,260.07 100.31,259.68 100.75,259.29 101.18,258.90 101.62,258.52 102.05,258.14 102.49,257.76 102.92,257.39 103.36,257.02 103.79,256.66 104.23,256.30 104.66,255.94 105.10,255.58 105.53,255.23 105.97,254.88 106.40,254.53 106.84,254.18 107.27,253.84 107.71,253.50 108.14,253.16 108.58,252.83 109.01,252.50 109.45,252.17 109.88,251.84 110.32,251.51 110.75,251.19 111.19,250.87 111.62,250.55 112.06,250.23 112.49,249.92 112.93,249.60 113.36,249.29 113.80,248.98 114.24,248.67 114.67,248.36 115.11,248.06 115.54,247.75 115.98,247.45 116.41,247.15 116.85,246.85 117.28,246.55 117.72,246.25 118.15,245.95 118.59,245.65 119.02,245.35 119.46,245.06 119.89,244.76 120.33,244.47 120.76,244.17 121.20,243.88 121.63,243.58 122.07,243.29 122.50,243.00 122.94,242.71 123.37,242.41 123.81,242.12 124.24,241.83 124.68,241.54 125.11,241.26 125.55,240.97 125.98,240.68 126.42,240.39 126.85,240.11 127.29,239.82 127.72,239.54 128.16,239.25 128.59,238.97 129.03,238.69 129.46,238.41 129.90,238.13 130.33,237.85 130.77,237.57 131.20,237.29 131.64,237.01 132.07,236.74 132.51,236.46 132.94,236.19 133.38,235.91 133.81,235.64 134.25,235.37 134.68,235.10 135.12,234.83 135.55,234.56 135.99,234.29 136.42,234.03 136.86,233.76 137.29,233.50 137.73,233.23 138.16,232.97 138.60,232.71 139.04,232.45 139.47,232.19 139.91,231.93 140.34,231.67 140.78,231.42 141.21,231.16 141.65,230.91 142.08,230.66 142.52,230.41 142.95,230.16 143.39,229.91 143.82,229.66 144.26,229.41 144.69,229.17 145.13,228.93 145.56,228.68 146.00,228.44 146.43,228.20 146.87,227.96 147.30,227.73 147.74,227.49 148.17,227.26 148.61,227.02 149.04,226.79 149.48,226.56 149.91,226.33 150.35,226.11 150.78,225.88 151.22,225.65 151.65,225.43 152.09,225.21 152.52,224.99 152.96,224.77 153.39,224.55 153.83,224.33 154.26,224.11 154.70,223.90 155.13,223.68 155.57,223.47 156.00,223.26 156.44,223.04 156.87,222.83 157.31,222.63 157.74,222.42 158.18,222.21 158.61,222.01 159.05,221.80 159.48,221.60 159.92,221.39 160.35,221.19 160.79,220.99 161.22,220.79 161.66,220.59 162.09,220.40 162.53,220.20 162.96,220.00 163.40,219.81 163.84,219.61 164.27,219.42 164.71,219.23 165.14,219.04 165.58,218.85 166.01,218.66 166.45,218.47 166.88,218.28 167.32,218.09 167.75,217.91 168.19,217.72 168.62,217.53 169.06,217.35 169.49,217.17 169.93,216.98 170.36,216.80 170.80,216.62 171.23,216.44 171.67,216.26 172.10,216.08 172.54,215.90 172.97,215.73 173.41,215.55 173.84,215.37 174.28,215.20 174.71,215.02 175.15,214.85 175.58,214.67 176.02,214.50 176.45,214.32 176.89,214.15 177.32,213.98 177.76,213.81 178.19,213.64 178.63,213.47 179.06,213.30 179.50,213.13 179.93,212.96 180.37,212.79 180.80,212.62 181.24,212.45 181.67,212.29 182.11,212.12 182.54,211.95 182.98,211.79 183.41,211.62 183.85,211.46 184.28,211.29 184.72,211.13 185.15,210.96 185.59,210.80 186.02,210.63 186.46,210.47 186.89,210.31 187.33,210.14 187.76,209.98 188.20,209.82 188.64,209.66 189.07,209.49 189.51,209.33 189.94,209.17 190.38,209.01 190.81,208.85 191.25,208.69 191.68,208.53 192.12,208.36 192.55,208.20 192.99,208.04 193.42,207.88 193.86,207.72 194.29,207.56 194.73,207.40 195.16,207.24 195.60,207.08 196.03,206.92 196.47,206.76 196.90,206.60 197.34,206.44 197.77,206.28 198.21,206.12 198.64,205.96 199.08,205.80 199.51,205.64 199.95,205.47 200.38,205.31 200.82,205.15 201.25,204.99 201.69,204.83 202.12,204.67 202.56,204.51 202.99,204.35 203.43,204.18 203.86,204.02 204.30,203.86 204.73,203.70 205.17,203.53 205.60,203.37 206.04,203.21 206.47,203.04 206.91,202.88 207.34,202.72 207.78,202.55 208.21,202.39 208.65,202.22 209.08,202.06 209.52,201.89 209.95,201.72 210.39,201.56 210.82,201.39 211.26,201.22 211.69,201.06 212.13,200.89 212.56,200.72 213.00,200.55" fill="none" stroke="#0072BD" stroke-width="1.6" clip-path="url(#c10)"/><polyline points="39.40,326.40 39.84,326.36 40.27,326.32 40.71,326.26 41.14,326.20 41.58,326.14 42.01,326.06 42.45,325.98 42.88,325.90 43.32,325.80 43.75,325.70 44.19,325.60 44.62,325.49 45.06,325.37 45.49,325.24 45.93,325.11 46.36,324.98 46.80,324.83 47.23,324.68 47.67,324.53 48.10,324.37 48.54,324.21 48.97,324.04 49.41,323.86 49.84,323.68 50.28,323.49 50.71,323.30 51.15,323.11 51.58,322.90 52.02,322.70 52.45,322.49 52.89,322.27 53.32,322.05 53.76,321.83 54.19,321.60 54.63,321.36 55.06,321.13 55.50,320.89 55.93,320.64 56.37,320.39 56.80,320.14 57.24,319.88 57.67,319.62 58.11,319.35 58.54,319.08 58.98,318.81 59.41,318.53 59.85,318.26 60.28,317.97 60.72,317.69 61.15,317.40 61.59,317.11 62.02,316.81 62.46,316.52 62.89,316.22 63.33,315.91 63.76,315.61 64.20,315.30 64.64,314.99 65.07,314.68 65.51,314.36 65.94,314.05 66.38,313.73 66.81,313.41 67.25,313.08 67.68,312.76 68.12,312.43 68.55,312.10 68.99,311.77 69.42,311.44 69.86,311.11 70.29,310.78 70.73,310.44 71.16,310.10 71.60,309.77 72.03,309.43 72.47,309.09 72.90,308.75 73.34,308.41 73.77,308.06 74.21,307.72 74.64,307.37 75.08,307.03 75.51,306.68 75.95,306.33 76.38,305.98 76.82,305.63 77.25,305.28 77.69,304.93 78.12,304.58 78.56,304.23 78.99,303.87 79.43,303.52 79.86,303.16 80.30,302.80 80.73,302.44 81.17,302.09 81.60,301.73 82.04,301.37 82.47,301.00 82.91,300.64 83.34,300.28 83.78,299.92 84.21,299.55 84.65,299.19 85.08,298.82 85.52,298.45 85.95,298.09 86.39,297.72 86.82,297.35 87.26,296.98 87.69,296.61 88.13,296.24 88.56,295.87 89.00,295.50 89.44,295.12 89.87,294.75 90.31,294.38 90.74,294.00 91.18,293.63 91.61,293.25 92.05,292.88 92.48,292.50 92.92,292.12 93.35,291.74 93.79,291.37 94.22,290.99 94.66,290.61 95.09,290.23 95.53,289.85 95.96,289.47 96.40,289.09 96.83,288.71 97.27,288.33 97.70,287.94 98.14,287.56 98.57,287.18 99.01,286.80 99.44,286.41 99.88,286.03 100.31,285.64 100.75,285.26 101.18,284.87 101.62,284.49 102.05,284.10 102.49,283.72 102.92,283.33 103.36,282.95 103.79,282.56 104.23,282.17 104.66,281.79 105.10,281.40 105.53,281.01 105.97,280.63 106.40,280.24 106.84,279.85 107.27,279.46 107.71,279.08 108.14,278.69 108.58,278.30 109.01,277.91 109.45,277.53 109.88,277.14 110.32,276.75 110.75,276.36 111.19,275.97 111.62,275.58 112.06,275.20 112.49,274.81 112.93,274.42 113.36,274.03 113.80,273.64 114.24,273.26 114.67,272.87 115.11,272.48 115.54,272.09 115.98,271.70 116.41,271.31 116.85,270.93 117.28,270.54 117.72,270.15 118.15,269.76 118.59,269.37 119.02,268.99 119.46,268.60 119.89,268.21 120.33,267.82 120.76,267.44 121.20,267.05 121.63,266.66 122.07,266.27 122.50,265.89 122.94,265.50 123.37,265.11 123.81,264.73 124.24,264.34 124.68,263.95 125.11,263.57 125.55,263.18 125.98,262.80 126.42,262.41 126.85,262.03 127.29,261.64 127.72,261.26 128.16,260.87 128.59,260.49 129.03,260.10 129.46,259.72 129.90,259.34 130.33,258.96 130.77,258.57 131.20,258.19 131.64,257.81 132.07,257.44 132.51,257.06 132.94,256.68 133.38,256.31 133.81,255.94 134.25,255.57 134.68,255.20 135.12,254.83 135.55,254.46 135.99,254.10 136.42,253.74 136.86,253.38 137.29,253.02 137.73,252.67 138.16,252.32 138.60,251.97 139.04,251.62 139.47,251.27 139.91,250.93 140.34,250.59 140.78,250.26 141.21,249.92 141.65,249.59 142.08,249.26 142.52,248.94 142.95,248.61 143.39,248.29 143.82,247.97 144.26,247.65 144.69,247.34 145.13,247.02 145.56,246.71 146.00,246.40 146.43,246.09 146.87,245.78 147.30,245.47 147.74,245.17 148.17,244.86 148.61,244.56 149.04,244.26 149.48,243.96 149.91,243.66 150.35,243.36 150.78,243.06 151.22,242.77 151.65,242.47 152.09,242.18 152.52,241.89 152.96,241.60 153.39,241.31 153.83,241.02 154.26,240.73 154.70,240.45 155.13,240.16 155.57,239.88 156.00,239.60 156.44,239.31 156.87,239.03 157.31,238.76 157.74,238.48 158.18,238.20 158.61,237.93 159.05,237.65 159.48,237.38 159.92,237.11 160.35,236.84 160.79,236.57 161.22,236.30 161.66,236.03 162.09,235.76 162.53,235.50 162.96,235.24 163.40,234.97 163.84,234.71 164.27,234.45 164.71,234.19 165.14,233.93 165.58,233.67 166.01,233.42 166.45,233.16 166.88,232.90 167.32,232.65 167.75,232.40 168.19,232.15 168.62,231.90 169.06,231.65 169.49,231.40 169.93,231.15 170.36,230.90 170.80,230.66 171.23,230.41 171.67,230.17 172.10,229.92 172.54,229.68 172.97,229.44 173.41,229.20 173.84,228.96 174.28,228.72 174.71,228.48 175.15,228.25 175.58,228.01 176.02,227.77 176.45,227.54 176.89,227.31 177.32,227.07 177.76,226.84 178.19,226.61 178.63,226.38 179.06,226.15 179.50,225.92 179.93,225.69 180.37,225.47 180.80,225.24 181.24,225.02 181.67,224.79 182.11,224.57 182.54,224.34 182.98,224.12 183.41,223.90 183.85,223.68 184.28,223.46 184.72,223.24 185.15,223.02 185.59,222.80 186.02,222.59 186.46,222.37 186.89,222.15 187.33,221.94 187.76,221.72 188.20,221.51 188.64,221.30 189.07,221.09 189.51,220.87 189.94,220.66 190.38,220.45 190.81,220.24 191.25,220.03 191.68,219.82 192.12,219.62 192.55,219.41 192.99,219.20 193.42,218.99 193.86,218.79 194.29,218.58 194.73,218.38 195.16,218.18 195.60,217.97 196.03,217.77 196.47,217.57 196.90,217.36 197.34,217.16 197.77,216.96 198.21,216.76 198.64,216.56 199.08,216.36 199.51,216.16 199.95,215.97 200.38,215.77 200.82,215.57 201.25,215.37 201.69,215.18 202.12,214.98 202.56,214.79 202.99,214.59 203.43,214.40 203.86,214.20 204.30,214.01 204.73,213.81 205.17,213.62 205.60,213.43 206.04,213.24 206.47,213.04 206.91,212.85 207.34,212.66 207.78,212.47 208.21,212.28 208.65,212.09 209.08,211.90 209.52,211.71 209.95,211.52 210.39,211.33 210.82,211.14 211.26,210.96 211.69,210.77 212.13,210.58 212.56,210.39 213.00,210.21" fill="none" stroke="#D95319" stroke-width="1.6" clip-path="url(#c10)"/><rect x="39.4" y="196.9" width="173.6" height="129.49999999999997" fill="none" stroke="#1c1c1c" stroke-width="1.35"/><path d="M97.27 326.40v-2.6M97.27 196.90v2.6M155.13 326.40v-2.6M155.13 196.90v2.6M39.40 304.82h2.6M213.00 304.82h-2.6M39.40 283.23h2.6M213.00 283.23h-2.6M39.40 261.65h2.6M213.00 261.65h-2.6M39.40 240.07h2.6M213.00 240.07h-2.6M39.40 218.48h2.6M213.00 218.48h-2.6" stroke="#1c1c1c" stroke-width="1.2" fill="none"/><text x="39.40" y="340.00" class="tl" text-anchor="middle">0</text><text x="97.27" y="340.00" class="tl" text-anchor="middle">5</text><text x="155.13" y="340.00" class="tl" text-anchor="middle">10</text><text x="213.00" y="340.00" class="tl" text-anchor="middle">15</text><text x="36.40" y="330.30" class="tl" text-anchor="end">0</text><text x="36.40" y="308.72" class="tl" text-anchor="end">20</text><text x="36.40" y="287.13" class="tl" text-anchor="end">40</text><text x="36.40" y="265.55" class="tl" text-anchor="end">60</text><text x="36.40" y="243.97" class="tl" text-anchor="end">80</text><text x="36.40" y="222.38" class="tl" text-anchor="end">100</text><text x="36.40" y="200.80" class="tl" text-anchor="end">120</text><text x="126.20" y="355.20" class="al" text-anchor="middle">time (s)</text><text transform="translate(15.50,261.65) rotate(-90)" x="0" y="0" class="al" text-anchor="middle">Speed (km/h)</text><text x="6.6" y="202.50" class="pl">(c)</text><text transform="translate(62.50,222.50) scale(0.93,1)" class="st">slope</text><text transform="translate(86.30,222.50) scale(0.93,1)" class="st">:</text><text transform="translate(95.60,222.50) scale(0.93,1)" class="st">4</text><text transform="translate(101.80,222.50) scale(0.86,1)" class="st">%</text><rect x="168.30" y="298.50" width="40.4" height="23.6" fill="#fff" stroke="#1a1a1a" stroke-width="0.9"/><path d="M169.90 304.80h16.3" stroke="#0072BD" stroke-width="1.6"/><path d="M169.90 316.20h16.3" stroke="#D95319" stroke-width="1.6"/><text x="187.80" y="308.60" class="lg">EVT</text><text x="187.80" y="319.70" class="lg">EV</text><clipPath id="c11"><rect x="264.9" y="196.9" width="178.10000000000002" height="129.49999999999997"/></clipPath><path d="M276.03 196.90V326.40M287.16 196.90V326.40M298.29 196.90V326.40M309.42 196.90V326.40M320.56 196.90V326.40M331.69 196.90V326.40M342.82 196.90V326.40M353.95 196.90V326.40M365.08 196.90V326.40M376.21 196.90V326.40M387.34 196.90V326.40M398.48 196.90V326.40M409.61 196.90V326.40M420.74 196.90V326.40M431.87 196.90V326.40" stroke="#000" stroke-opacity="0.165" stroke-width="1" fill="none"/><path d="M264.90 315.61H443.00M264.90 304.82H443.00M264.90 294.02H443.00M264.90 283.23H443.00M264.90 272.44H443.00M264.90 261.65H443.00M264.90 250.86H443.00M264.90 240.07H443.00M264.90 229.27H443.00M264.90 218.48H443.00M264.90 207.69H443.00" stroke="#000" stroke-opacity="0.165" stroke-width="1" fill="none"/><polyline points="264.90,326.40 265.37,326.28 265.85,326.15 266.32,326.01 266.80,325.86 267.27,325.69 267.75,325.51 268.22,325.32 268.69,325.12 269.17,324.91 269.64,324.69 270.12,324.46 270.59,324.22 271.07,323.96 271.54,323.70 272.01,323.42 272.49,323.14 272.96,322.85 273.44,322.54 273.91,322.23 274.39,321.91 274.86,321.58 275.33,321.24 275.81,320.89 276.28,320.53 276.76,320.16 277.23,319.79 277.71,319.40 278.18,319.01 278.65,318.61 279.13,318.21 279.60,317.79 280.08,317.37 280.55,316.94 281.02,316.51 281.50,316.06 281.97,315.61 282.45,315.16 282.92,314.70 283.40,314.23 283.87,313.75 284.34,313.27 284.82,312.78 285.29,312.29 285.77,311.79 286.24,311.29 286.72,310.78 287.19,310.27 287.66,309.75 288.14,309.23 288.61,308.70 289.09,308.17 289.56,307.63 290.04,307.09 290.51,306.55 290.98,306.00 291.46,305.45 291.93,304.90 292.41,304.34 292.88,303.78 293.36,303.21 293.83,302.65 294.30,302.08 294.78,301.50 295.25,300.93 295.73,300.35 296.20,299.76 296.68,299.18 297.15,298.59 297.62,298.00 298.10,297.41 298.57,296.81 299.05,296.21 299.52,295.61 300.00,295.01 300.47,294.40 300.94,293.80 301.42,293.19 301.89,292.58 302.37,291.96 302.84,291.35 303.32,290.73 303.79,290.11 304.26,289.49 304.74,288.86 305.21,288.24 305.69,287.61 306.16,286.99 306.64,286.36 307.11,285.72 307.58,285.09 308.06,284.46 308.53,283.82 309.01,283.19 309.48,282.55 309.96,281.91 310.43,281.27 310.90,280.63 311.38,279.99 311.85,279.35 312.33,278.71 312.80,278.07 313.27,277.42 313.75,276.78 314.22,276.13 314.70,275.49 315.17,274.84 315.65,274.20 316.12,273.55 316.59,272.90 317.07,272.26 317.54,271.61 318.02,270.96 318.49,270.32 318.97,269.67 319.44,269.02 319.91,268.38 320.39,267.73 320.86,267.09 321.34,266.44 321.81,265.79 322.29,265.15 322.76,264.50 323.23,263.85 323.71,263.21 324.18,262.56 324.66,261.92 325.13,261.27 325.61,260.63 326.08,259.99 326.55,259.34 327.03,258.70 327.50,258.06 327.98,257.41 328.45,256.77 328.93,256.13 329.40,255.49 329.87,254.85 330.35,254.21 330.82,253.57 331.30,252.93 331.77,252.30 332.25,251.66 332.72,251.02 333.19,250.39 333.67,249.75 334.14,249.12 334.62,248.48 335.09,247.85 335.57,247.22 336.04,246.59 336.51,245.96 336.99,245.33 337.46,244.70 337.94,244.07 338.41,243.45 338.89,242.82 339.36,242.20 339.83,241.57 340.31,240.95 340.78,240.33 341.26,239.71 341.73,239.09 342.20,238.47 342.68,237.86 343.15,237.24 343.63,236.63 344.10,236.01 344.58,235.40 345.05,234.79 345.52,234.18 346.00,233.58 346.47,232.97 346.95,232.37 347.42,231.76 347.90,231.16 348.37,230.56 348.84,229.96 349.32,229.36 349.79,228.77 350.27,228.17 350.74,227.58 351.22,226.99 351.69,226.40 352.16,225.81 352.64,225.23 353.11,224.64 353.59,224.06 354.06,223.48 354.54,222.90 355.01,222.32 355.48,221.75 355.96,221.18 356.43,220.60 356.91,220.03 357.38,219.47 357.86,218.90 358.33,218.33 358.80,217.77 359.28,217.21 359.75,216.65 360.23,216.10 360.70,215.54 361.18,214.99 361.65,214.44 362.12,213.89 362.60,213.35 363.07,212.80 363.55,212.26 364.02,211.72 364.50,211.18 364.97,210.65 365.44,210.11 365.92,209.58 366.39,209.05 366.87,208.53 367.34,208.00 367.82,207.48 368.29,206.96 368.76,206.44 369.24,205.93 369.71,205.42 370.19,204.91 370.66,204.40 371.14,203.89 371.61,203.39 372.08,202.89 372.56,202.39 373.03,201.90 373.51,201.41 373.98,200.92 374.45,200.43 374.93,199.94 375.40,199.46 375.88,198.98 376.35,198.50 376.83,198.03 377.30,197.56 377.77,197.09 378.25,196.62 378.72,196.16 379.20,195.70 379.67,195.24 380.15,194.78 380.62,194.33 381.09,193.88 381.57,193.43 382.04,192.99 382.52,192.54 382.99,192.10 383.47,191.66 383.94,191.23 384.41,190.79 384.89,190.36 385.36,189.93 385.84,189.50 386.31,189.08 386.79,188.66 387.26,188.24 387.73,187.82 388.21,187.40 388.68,186.99 389.16,186.58 389.63,186.17 390.11,185.76 390.58,185.35 391.05,184.95 391.53,184.55 392.00,184.15 392.48,183.75 392.95,183.35 393.43,182.96 393.90,182.56 394.37,182.17 394.85,181.78 395.32,181.39 395.80,181.01 396.27,180.62 396.75,180.24 397.22,179.86 397.69,179.48 398.17,179.10 398.64,178.73 399.12,178.35 399.59,177.98 400.07,177.61 400.54,177.24 401.01,176.87 401.49,176.50 401.96,176.13 402.44,175.77 402.91,175.40 403.39,175.04 403.86,174.68 404.33,174.32 404.81,173.96 405.28,173.60 405.76,173.25 406.23,172.89 406.70,172.54 407.18,172.18 407.65,171.83 408.13,171.48 408.60,171.13 409.08,170.78 409.55,170.43 410.02,170.08 410.50,169.74 410.97,169.39 411.45,169.05 411.92,168.70 412.40,168.36 412.87,168.02 413.34,167.67 413.82,167.33 414.29,166.99 414.77,166.65 415.24,166.31 415.72,165.97 416.19,165.63 416.66,165.30 417.14,164.96 417.61,164.62 418.09,164.29 418.56,163.95 419.04,163.61 419.51,163.28 419.98,162.94 420.46,162.61 420.93,162.28 421.41,161.94 421.88,161.61 422.36,161.27 422.83,160.94 423.30,160.61 423.78,160.28 424.25,159.95 424.73,159.61 425.20,159.28 425.68,158.95 426.15,158.62 426.62,158.29 427.10,157.96 427.57,157.63 428.05,157.31 428.52,156.98 429.00,156.65 429.47,156.32 429.94,156.00 430.42,155.67 430.89,155.34 431.37,155.02 431.84,154.69 432.32,154.37 432.79,154.04 433.26,153.72 433.74,153.40 434.21,153.07 434.69,152.75 435.16,152.43 435.63,152.11 436.11,151.79 436.58,151.47 437.06,151.15 437.53,150.83 438.01,150.51 438.48,150.19 438.95,149.87 439.43,149.56 439.90,149.24 440.38,148.92 440.85,148.61 441.33,148.29 441.80,147.98 442.27,147.66 442.75,147.35 443.22,147.04 443.70,146.73 444.17,146.41 444.65,146.10 445.12,145.79 445.59,145.48 446.07,145.17 446.54,144.86 447.02,144.56 447.49,144.25 447.97,143.94 448.44,143.64 448.91,143.33 449.39,143.03 449.86,142.72 450.34,142.42 450.81,142.11 451.29,141.81 451.76,141.51 452.23,141.21 452.71,140.91 453.18,140.61 453.66,140.31 454.13,140.01" fill="none" stroke="#0072BD" stroke-width="1.6" clip-path="url(#c11)"/><polyline points="264.90,326.40 265.37,326.36 265.85,326.31 266.32,326.26 266.80,326.20 267.27,326.14 267.75,326.08 268.22,326.01 268.69,325.94 269.17,325.86 269.64,325.78 270.12,325.69 270.59,325.60 271.07,325.50 271.54,325.40 272.01,325.30 272.49,325.19 272.96,325.08 273.44,324.97 273.91,324.85 274.39,324.72 274.86,324.59 275.33,324.46 275.81,324.33 276.28,324.19 276.76,324.04 277.23,323.89 277.71,323.74 278.18,323.59 278.65,323.43 279.13,323.27 279.60,323.10 280.08,322.93 280.55,322.75 281.02,322.58 281.50,322.40 281.97,322.21 282.45,322.02 282.92,321.83 283.40,321.64 283.87,321.44 284.34,321.24 284.82,321.03 285.29,320.82 285.77,320.61 286.24,320.40 286.72,320.18 287.19,319.96 287.66,319.73 288.14,319.50 288.61,319.27 289.09,319.04 289.56,318.80 290.04,318.56 290.51,318.32 290.98,318.07 291.46,317.82 291.93,317.57 292.41,317.32 292.88,317.06 293.36,316.80 293.83,316.53 294.30,316.27 294.78,316.00 295.25,315.73 295.73,315.45 296.20,315.18 296.68,314.90 297.15,314.61 297.62,314.33 298.10,314.04 298.57,313.75 299.05,313.46 299.52,313.17 300.00,312.87 300.47,312.57 300.94,312.27 301.42,311.96 301.89,311.66 302.37,311.35 302.84,311.04 303.32,310.73 303.79,310.41 304.26,310.09 304.74,309.77 305.21,309.45 305.69,309.13 306.16,308.80 306.64,308.48 307.11,308.15 307.58,307.82 308.06,307.48 308.53,307.15 309.01,306.81 309.48,306.47 309.96,306.13 310.43,305.79 310.90,305.45 311.38,305.10 311.85,304.76 312.33,304.41 312.80,304.06 313.27,303.71 313.75,303.35 314.22,303.00 314.70,302.64 315.17,302.28 315.65,301.93 316.12,301.56 316.59,301.20 317.07,300.84 317.54,300.48 318.02,300.11 318.49,299.74 318.97,299.38 319.44,299.01 319.91,298.64 320.39,298.27 320.86,297.89 321.34,297.52 321.81,297.15 322.29,296.77 322.76,296.40 323.23,296.02 323.71,295.64 324.18,295.26 324.66,294.88 325.13,294.50 325.61,294.12 326.08,293.74 326.55,293.36 327.03,292.98 327.50,292.59 327.98,292.21 328.45,291.82 328.93,291.44 329.40,291.05 329.87,290.66 330.35,290.27 330.82,289.89 331.30,289.50 331.77,289.11 332.25,288.72 332.72,288.32 333.19,287.93 333.67,287.54 334.14,287.15 334.62,286.75 335.09,286.36 335.57,285.96 336.04,285.57 336.51,285.17 336.99,284.78 337.46,284.38 337.94,283.98 338.41,283.58 338.89,283.18 339.36,282.78 339.83,282.38 340.31,281.98 340.78,281.58 341.26,281.18 341.73,280.77 342.20,280.37 342.68,279.97 343.15,279.56 343.63,279.16 344.10,278.75 344.58,278.35 345.05,277.94 345.52,277.53 346.00,277.12 346.47,276.72 346.95,276.31 347.42,275.90 347.90,275.49 348.37,275.08 348.84,274.67 349.32,274.25 349.79,273.84 350.27,273.43 350.74,273.02 351.22,272.60 351.69,272.19 352.16,271.78 352.64,271.36 353.11,270.95 353.59,270.53 354.06,270.12 354.54,269.70 355.01,269.28 355.48,268.86 355.96,268.45 356.43,268.03 356.91,267.61 357.38,267.19 357.86,266.77 358.33,266.35 358.80,265.93 359.28,265.51 359.75,265.09 360.23,264.67 360.70,264.24 361.18,263.82 361.65,263.40 362.12,262.98 362.60,262.55 363.07,262.13 363.55,261.70 364.02,261.28 364.50,260.85 364.97,260.43 365.44,260.00 365.92,259.58 366.39,259.15 366.87,258.72 367.34,258.30 367.82,257.87 368.29,257.44 368.76,257.01 369.24,256.59 369.71,256.16 370.19,255.73 370.66,255.30 371.14,254.87 371.61,254.44 372.08,254.01 372.56,253.58 373.03,253.15 373.51,252.72 373.98,252.28 374.45,251.85 374.93,251.42 375.40,250.99 375.88,250.56 376.35,250.12 376.83,249.69 377.30,249.26 377.77,248.82 378.25,248.39 378.72,247.96 379.20,247.52 379.67,247.09 380.15,246.65 380.62,246.22 381.09,245.78 381.57,245.35 382.04,244.91 382.52,244.48 382.99,244.04 383.47,243.61 383.94,243.17 384.41,242.73 384.89,242.30 385.36,241.86 385.84,241.42 386.31,240.99 386.79,240.55 387.26,240.11 387.73,239.67 388.21,239.24 388.68,238.80 389.16,238.36 389.63,237.92 390.11,237.49 390.58,237.05 391.05,236.61 391.53,236.17 392.00,235.73 392.48,235.29 392.95,234.85 393.43,234.42 393.90,233.98 394.37,233.54 394.85,233.10 395.32,232.66 395.80,232.22 396.27,231.78 396.75,231.34 397.22,230.90 397.69,230.46 398.17,230.02 398.64,229.58 399.12,229.14 399.59,228.70 400.07,228.26 400.54,227.82 401.01,227.38 401.49,226.94 401.96,226.50 402.44,226.06 402.91,225.62 403.39,225.18 403.86,224.74 404.33,224.30 404.81,223.86 405.28,223.42 405.76,222.98 406.23,222.54 406.70,222.10 407.18,221.66 407.65,221.22 408.13,220.78 408.60,220.34 409.08,219.90 409.55,219.46 410.02,219.02 410.50,218.58 410.97,218.14 411.45,217.70 411.92,217.26 412.40,216.82 412.87,216.38 413.34,215.94 413.82,215.50 414.29,215.06 414.77,214.62 415.24,214.18 415.72,213.74 416.19,213.30 416.66,212.86 417.14,212.43 417.61,211.99 418.09,211.55 418.56,211.11 419.04,210.67 419.51,210.23 419.98,209.79 420.46,209.35 420.93,208.91 421.41,208.47 421.88,208.03 422.36,207.59 422.83,207.15 423.30,206.72 423.78,206.28 424.25,205.84 424.73,205.40 425.20,204.96 425.68,204.52 426.15,204.09 426.62,203.65 427.10,203.21 427.57,202.77 428.05,202.33 428.52,201.90 429.00,201.46 429.47,201.02 429.94,200.58 430.42,200.15 430.89,199.71 431.37,199.27 431.84,198.83 432.32,198.40 432.79,197.96 433.26,197.52 433.74,197.09 434.21,196.65 434.69,196.21 435.16,195.78 435.63,195.34 436.11,194.91 436.58,194.47 437.06,194.04 437.53,193.60 438.01,193.17 438.48,192.73 438.95,192.30 439.43,191.87 439.90,191.43 440.38,191.00 440.85,190.57 441.33,190.14 441.80,189.71 442.27,189.28 442.75,188.85 443.22,188.42 443.70,188.00 444.17,187.57 444.65,187.14 445.12,186.72 445.59,186.30 446.07,185.87 446.54,185.45 447.02,185.03 447.49,184.61 447.97,184.19 448.44,183.77 448.91,183.36 449.39,182.94 449.86,182.53 450.34,182.12 450.81,181.70 451.29,181.29 451.76,180.89 452.23,180.48 452.71,180.07 453.18,179.67 453.66,179.27 454.13,178.86" fill="none" stroke="#D95319" stroke-width="1.6" clip-path="url(#c11)"/><rect x="264.9" y="196.9" width="178.10000000000002" height="129.49999999999997" fill="none" stroke="#1c1c1c" stroke-width="1.35"/><path d="M309.42 326.40v-2.6M309.42 196.90v2.6M353.95 326.40v-2.6M353.95 196.90v2.6M398.48 326.40v-2.6M398.48 196.90v2.6M264.90 283.23h2.6M443.00 283.23h-2.6M264.90 240.07h2.6M443.00 240.07h-2.6" stroke="#1c1c1c" stroke-width="1.2" fill="none"/><text x="264.90" y="340.00" class="tl" text-anchor="middle">0</text><text x="309.42" y="340.00" class="tl" text-anchor="middle">2</text><text x="353.95" y="340.00" class="tl" text-anchor="middle">4</text><text x="398.48" y="340.00" class="tl" text-anchor="middle">6</text><text x="443.00" y="340.00" class="tl" text-anchor="middle">8</text><text x="261.30" y="330.30" class="tl" text-anchor="end">0</text><text x="261.30" y="287.13" class="tl" text-anchor="end">20</text><text x="261.30" y="243.97" class="tl" text-anchor="end">40</text><text x="261.30" y="200.80" class="tl" text-anchor="end">60</text><text x="353.95" y="355.20" class="al" text-anchor="middle">time (s)</text><text transform="translate(246.00,261.65) rotate(-90)" x="0" y="0" class="al" text-anchor="middle">Speed (km/h)</text><text x="236.5" y="202.50" class="pl">(d)</text><text transform="translate(286.90,222.50) scale(0.93,1)" class="st">slope</text><text transform="translate(310.70,222.50) scale(0.93,1)" class="st">:</text><text transform="translate(320.00,222.50) scale(0.93,1)" class="st">4</text><text transform="translate(326.20,222.50) scale(0.86,1)" class="st">%</text><rect x="398.30" y="298.50" width="40.4" height="23.6" fill="#fff" stroke="#1a1a1a" stroke-width="0.9"/><path d="M399.90 304.80h16.3" stroke="#0072BD" stroke-width="1.6"/><path d="M399.90 316.20h16.3" stroke="#D95319" stroke-width="1.6"/><text x="417.80" y="308.60" class="lg">EVT</text><text x="417.80" y="319.70" class="lg">EV</text><clipPath id="c20"><rect x="39.4" y="384.9" width="173.6" height="129.5"/></clipPath><path d="M50.97 384.90V514.40M62.55 384.90V514.40M74.12 384.90V514.40M85.69 384.90V514.40M97.27 384.90V514.40M108.84 384.90V514.40M120.41 384.90V514.40M131.99 384.90V514.40M143.56 384.90V514.40M155.13 384.90V514.40M166.71 384.90V514.40M178.28 384.90V514.40M189.85 384.90V514.40M201.43 384.90V514.40" stroke="#000" stroke-opacity="0.165" stroke-width="1" fill="none"/><path d="M39.40 509.00H213.00M39.40 503.61H213.00M39.40 498.21H213.00M39.40 492.82H213.00M39.40 487.42H213.00M39.40 482.02H213.00M39.40 476.63H213.00M39.40 471.23H213.00M39.40 465.84H213.00M39.40 460.44H213.00M39.40 455.05H213.00M39.40 449.65H213.00M39.40 444.25H213.00M39.40 438.86H213.00M39.40 433.46H213.00M39.40 428.07H213.00M39.40 422.67H213.00M39.40 417.27H213.00M39.40 411.88H213.00M39.40 406.48H213.00M39.40 401.09H213.00M39.40 395.69H213.00M39.40 390.30H213.00" stroke="#000" stroke-opacity="0.165" stroke-width="1" fill="none"/><polyline points="39.40,514.40 39.84,514.37 40.27,514.32 40.71,514.25 41.14,514.15 41.58,514.04 42.01,513.91 42.45,513.76 42.88,513.59 43.32,513.40 43.75,513.20 44.19,512.98 44.62,512.74 45.06,512.49 45.49,512.22 45.93,511.94 46.36,511.64 46.80,511.33 47.23,511.00 47.67,510.66 48.10,510.31 48.54,509.95 48.97,509.58 49.41,509.19 49.84,508.80 50.28,508.39 50.71,507.98 51.15,507.55 51.58,507.12 52.02,506.68 52.45,506.23 52.89,505.78 53.32,505.31 53.76,504.85 54.19,504.37 54.63,503.89 55.06,503.41 55.50,502.92 55.93,502.43 56.37,501.93 56.80,501.43 57.24,500.93 57.67,500.42 58.11,499.91 58.54,499.40 58.98,498.89 59.41,498.37 59.85,497.85 60.28,497.33 60.72,496.81 61.15,496.28 61.59,495.76 62.02,495.24 62.46,494.71 62.89,494.18 63.33,493.66 63.76,493.13 64.20,492.61 64.64,492.08 65.07,491.55 65.51,491.03 65.94,490.50 66.38,489.97 66.81,489.45 67.25,488.92 67.68,488.39 68.12,487.86 68.55,487.33 68.99,486.81 69.42,486.28 69.86,485.75 70.29,485.22 70.73,484.69 71.16,484.16 71.60,483.63 72.03,483.10 72.47,482.58 72.90,482.05 73.34,481.52 73.77,480.98 74.21,480.45 74.64,479.92 75.08,479.39 75.51,478.86 75.95,478.33 76.38,477.80 76.82,477.27 77.25,476.74 77.69,476.20 78.12,475.67 78.56,475.14 78.99,474.61 79.43,474.07 79.86,473.54 80.30,473.01 80.73,472.48 81.17,471.95 81.60,471.42 82.04,470.90 82.47,470.37 82.91,469.85 83.34,469.33 83.78,468.81 84.21,468.29 84.65,467.77 85.08,467.26 85.52,466.75 85.95,466.24 86.39,465.74 86.82,465.24 87.26,464.74 87.69,464.24 88.13,463.75 88.56,463.26 89.00,462.78 89.44,462.30 89.87,461.82 90.31,461.35 90.74,460.89 91.18,460.42 91.61,459.97 92.05,459.51 92.48,459.07 92.92,458.62 93.35,458.18 93.79,457.75 94.22,457.32 94.66,456.89 95.09,456.47 95.53,456.05 95.96,455.63 96.40,455.22 96.83,454.81 97.27,454.41 97.70,454.01 98.14,453.61 98.57,453.22 99.01,452.83 99.44,452.44 99.88,452.06 100.31,451.68 100.75,451.30 101.18,450.93 101.62,450.56 102.05,450.19 102.49,449.82 102.92,449.46 103.36,449.10 103.79,448.74 104.23,448.39 104.66,448.03 105.10,447.68 105.53,447.34 105.97,446.99 106.40,446.65 106.84,446.30 107.27,445.97 107.71,445.63 108.14,445.29 108.58,444.96 109.01,444.63 109.45,444.29 109.88,443.97 110.32,443.64 110.75,443.31 111.19,442.99 111.62,442.66 112.06,442.34 112.49,442.02 112.93,441.70 113.36,441.38 113.80,441.06 114.24,440.75 114.67,440.43 115.11,440.11 115.54,439.80 115.98,439.48 116.41,439.17 116.85,438.86 117.28,438.54 117.72,438.23 118.15,437.92 118.59,437.61 119.02,437.30 119.46,437.00 119.89,436.69 120.33,436.38 120.76,436.08 121.20,435.77 121.63,435.47 122.07,435.17 122.50,434.87 122.94,434.57 123.37,434.27 123.81,433.97 124.24,433.67 124.68,433.38 125.11,433.08 125.55,432.79 125.98,432.50 126.42,432.21 126.85,431.92 127.29,431.63 127.72,431.34 128.16,431.05 128.59,430.77 129.03,430.48 129.46,430.20 129.90,429.92 130.33,429.64 130.77,429.36 131.20,429.09 131.64,428.81 132.07,428.54 132.51,428.27 132.94,428.00 133.38,427.73 133.81,427.46 134.25,427.19 134.68,426.93 135.12,426.66 135.55,426.40 135.99,426.14 136.42,425.88 136.86,425.63 137.29,425.37 137.73,425.12 138.16,424.87 138.60,424.62 139.04,424.37 139.47,424.12 139.91,423.88 140.34,423.64 140.78,423.39 141.21,423.15 141.65,422.92 142.08,422.68 142.52,422.45 142.95,422.21 143.39,421.98 143.82,421.76 144.26,421.53 144.69,421.30 145.13,421.08 145.56,420.85 146.00,420.63 146.43,420.41 146.87,420.19 147.30,419.98 147.74,419.76 148.17,419.55 148.61,419.34 149.04,419.12 149.48,418.91 149.91,418.71 150.35,418.50 150.78,418.29 151.22,418.09 151.65,417.88 152.09,417.68 152.52,417.48 152.96,417.28 153.39,417.08 153.83,416.88 154.26,416.69 154.70,416.49 155.13,416.30 155.57,416.10 156.00,415.91 156.44,415.72 156.87,415.53 157.31,415.34 157.74,415.15 158.18,414.96 158.61,414.77 159.05,414.59 159.48,414.40 159.92,414.22 160.35,414.03 160.79,413.85 161.22,413.67 161.66,413.49 162.09,413.30 162.53,413.12 162.96,412.94 163.40,412.77 163.84,412.59 164.27,412.41 164.71,412.23 165.14,412.05 165.58,411.88 166.01,411.70 166.45,411.53 166.88,411.35 167.32,411.18 167.75,411.00 168.19,410.83 168.62,410.66 169.06,410.48 169.49,410.31 169.93,410.14 170.36,409.96 170.80,409.79 171.23,409.62 171.67,409.45 172.10,409.28 172.54,409.11 172.97,408.93 173.41,408.76 173.84,408.59 174.28,408.42 174.71,408.25 175.15,408.08 175.58,407.91 176.02,407.74 176.45,407.56 176.89,407.39 177.32,407.22 177.76,407.05 178.19,406.88 178.63,406.71 179.06,406.54 179.50,406.36 179.93,406.19 180.37,406.02 180.80,405.85 181.24,405.67 181.67,405.50 182.11,405.33 182.54,405.16 182.98,404.98 183.41,404.81 183.85,404.64 184.28,404.47 184.72,404.30 185.15,404.13 185.59,403.96 186.02,403.79 186.46,403.61 186.89,403.44 187.33,403.28 187.76,403.11 188.20,402.94 188.64,402.77 189.07,402.60 189.51,402.43 189.94,402.27 190.38,402.10 190.81,401.94 191.25,401.77 191.68,401.61 192.12,401.44 192.55,401.28 192.99,401.12 193.42,400.96 193.86,400.80 194.29,400.64 194.73,400.48 195.16,400.32 195.60,400.16 196.03,400.01 196.47,399.85 196.90,399.70 197.34,399.55 197.77,399.39 198.21,399.24 198.64,399.09 199.08,398.94 199.51,398.80 199.95,398.65 200.38,398.51 200.82,398.36 201.25,398.22 201.69,398.08 202.12,397.94 202.56,397.80 202.99,397.66 203.43,397.53 203.86,397.39 204.30,397.26 204.73,397.13 205.17,397.00 205.60,396.87 206.04,396.75 206.47,396.62 206.91,396.50 207.34,396.38 207.78,396.26 208.21,396.14 208.65,396.03 209.08,395.91 209.52,395.80 209.95,395.69 210.39,395.58 210.82,395.47 211.26,395.37 211.69,395.26 212.13,395.16 212.56,395.07 213.00,394.97" fill="none" stroke="#0072BD" stroke-width="1.6" clip-path="url(#c20)"/><polyline points="39.40,514.40 39.84,514.38 40.27,514.36 40.71,514.34 41.14,514.31 41.58,514.28 42.01,514.25 42.45,514.21 42.88,514.17 43.32,514.13 43.75,514.09 44.19,514.04 44.62,513.98 45.06,513.93 45.49,513.86 45.93,513.80 46.36,513.73 46.80,513.66 47.23,513.59 47.67,513.51 48.10,513.42 48.54,513.33 48.97,513.24 49.41,513.15 49.84,513.05 50.28,512.94 50.71,512.84 51.15,512.72 51.58,512.61 52.02,512.49 52.45,512.36 52.89,512.23 53.32,512.10 53.76,511.96 54.19,511.81 54.63,511.67 55.06,511.51 55.50,511.36 55.93,511.19 56.37,511.03 56.80,510.85 57.24,510.68 57.67,510.49 58.11,510.31 58.54,510.11 58.98,509.92 59.41,509.71 59.85,509.51 60.28,509.29 60.72,509.07 61.15,508.85 61.59,508.62 62.02,508.39 62.46,508.15 62.89,507.90 63.33,507.65 63.76,507.40 64.20,507.14 64.64,506.87 65.07,506.61 65.51,506.33 65.94,506.06 66.38,505.78 66.81,505.49 67.25,505.21 67.68,504.92 68.12,504.62 68.55,504.32 68.99,504.02 69.42,503.72 69.86,503.41 70.29,503.11 70.73,502.79 71.16,502.48 71.60,502.17 72.03,501.85 72.47,501.53 72.90,501.21 73.34,500.89 73.77,500.56 74.21,500.24 74.64,499.91 75.08,499.59 75.51,499.26 75.95,498.93 76.38,498.60 76.82,498.27 77.25,497.94 77.69,497.61 78.12,497.28 78.56,496.95 78.99,496.62 79.43,496.29 79.86,495.96 80.30,495.63 80.73,495.30 81.17,494.96 81.60,494.63 82.04,494.30 82.47,493.97 82.91,493.63 83.34,493.30 83.78,492.97 84.21,492.63 84.65,492.30 85.08,491.97 85.52,491.63 85.95,491.30 86.39,490.96 86.82,490.63 87.26,490.29 87.69,489.96 88.13,489.62 88.56,489.28 89.00,488.95 89.44,488.61 89.87,488.27 90.31,487.94 90.74,487.60 91.18,487.26 91.61,486.92 92.05,486.58 92.48,486.24 92.92,485.91 93.35,485.57 93.79,485.23 94.22,484.89 94.66,484.55 95.09,484.21 95.53,483.86 95.96,483.52 96.40,483.18 96.83,482.84 97.27,482.50 97.70,482.16 98.14,481.81 98.57,481.47 99.01,481.13 99.44,480.78 99.88,480.44 100.31,480.09 100.75,479.75 101.18,479.41 101.62,479.06 102.05,478.71 102.49,478.37 102.92,478.02 103.36,477.68 103.79,477.33 104.23,476.98 104.66,476.63 105.10,476.29 105.53,475.94 105.97,475.59 106.40,475.24 106.84,474.89 107.27,474.54 107.71,474.19 108.14,473.84 108.58,473.49 109.01,473.14 109.45,472.79 109.88,472.44 110.32,472.08 110.75,471.73 111.19,471.38 111.62,471.02 112.06,470.67 112.49,470.32 112.93,469.96 113.36,469.61 113.80,469.25 114.24,468.90 114.67,468.54 115.11,468.19 115.54,467.83 115.98,467.47 116.41,467.11 116.85,466.76 117.28,466.40 117.72,466.04 118.15,465.68 118.59,465.32 119.02,464.96 119.46,464.60 119.89,464.24 120.33,463.88 120.76,463.52 121.20,463.16 121.63,462.80 122.07,462.44 122.50,462.08 122.94,461.72 123.37,461.35 123.81,460.99 124.24,460.63 124.68,460.27 125.11,459.91 125.55,459.54 125.98,459.18 126.42,458.82 126.85,458.46 127.29,458.10 127.72,457.73 128.16,457.37 128.59,457.01 129.03,456.65 129.46,456.29 129.90,455.93 130.33,455.57 130.77,455.21 131.20,454.85 131.64,454.49 132.07,454.13 132.51,453.77 132.94,453.41 133.38,453.05 133.81,452.70 134.25,452.34 134.68,451.98 135.12,451.63 135.55,451.27 135.99,450.92 136.42,450.56 136.86,450.21 137.29,449.85 137.73,449.50 138.16,449.15 138.60,448.80 139.04,448.45 139.47,448.10 139.91,447.75 140.34,447.40 140.78,447.05 141.21,446.71 141.65,446.36 142.08,446.02 142.52,445.67 142.95,445.33 143.39,444.99 143.82,444.65 144.26,444.31 144.69,443.97 145.13,443.63 145.56,443.29 146.00,442.96 146.43,442.62 146.87,442.29 147.30,441.95 147.74,441.62 148.17,441.29 148.61,440.96 149.04,440.64 149.48,440.31 149.91,439.98 150.35,439.66 150.78,439.34 151.22,439.02 151.65,438.70 152.09,438.38 152.52,438.06 152.96,437.75 153.39,437.43 153.83,437.12 154.26,436.81 154.70,436.50 155.13,436.19 155.57,435.89 156.00,435.58 156.44,435.28 156.87,434.98 157.31,434.68 157.74,434.38 158.18,434.08 158.61,433.79 159.05,433.50 159.48,433.20 159.92,432.91 160.35,432.62 160.79,432.34 161.22,432.05 161.66,431.77 162.09,431.48 162.53,431.20 162.96,430.92 163.40,430.64 163.84,430.37 164.27,430.09 164.71,429.81 165.14,429.54 165.58,429.27 166.01,429.00 166.45,428.73 166.88,428.46 167.32,428.20 167.75,427.93 168.19,427.67 168.62,427.41 169.06,427.15 169.49,426.89 169.93,426.63 170.36,426.37 170.80,426.12 171.23,425.86 171.67,425.61 172.10,425.36 172.54,425.11 172.97,424.86 173.41,424.61 173.84,424.36 174.28,424.12 174.71,423.88 175.15,423.63 175.58,423.39 176.02,423.15 176.45,422.91 176.89,422.67 177.32,422.44 177.76,422.20 178.19,421.97 178.63,421.73 179.06,421.50 179.50,421.27 179.93,421.04 180.37,420.81 180.80,420.58 181.24,420.36 181.67,420.13 182.11,419.91 182.54,419.68 182.98,419.46 183.41,419.24 183.85,419.02 184.28,418.80 184.72,418.58 185.15,418.36 185.59,418.15 186.02,417.93 186.46,417.72 186.89,417.50 187.33,417.29 187.76,417.08 188.20,416.87 188.64,416.66 189.07,416.45 189.51,416.25 189.94,416.04 190.38,415.83 190.81,415.63 191.25,415.43 191.68,415.22 192.12,415.02 192.55,414.82 192.99,414.62 193.42,414.42 193.86,414.22 194.29,414.02 194.73,413.83 195.16,413.63 195.60,413.44 196.03,413.24 196.47,413.05 196.90,412.86 197.34,412.66 197.77,412.47 198.21,412.28 198.64,412.09 199.08,411.90 199.51,411.71 199.95,411.53 200.38,411.34 200.82,411.15 201.25,410.97 201.69,410.78 202.12,410.60 202.56,410.42 202.99,410.24 203.43,410.05 203.86,409.87 204.30,409.69 204.73,409.51 205.17,409.33 205.60,409.15 206.04,408.98 206.47,408.80 206.91,408.62 207.34,408.45 207.78,408.27 208.21,408.09 208.65,407.92 209.08,407.75 209.52,407.57 209.95,407.40 210.39,407.23 210.82,407.06 211.26,406.88 211.69,406.71 212.13,406.54 212.56,406.37 213.00,406.20" fill="none" stroke="#D95319" stroke-width="1.6" clip-path="url(#c20)"/><rect x="39.4" y="384.9" width="173.6" height="129.5" fill="none" stroke="#1c1c1c" stroke-width="1.35"/><path d="M97.27 514.40v-2.6M97.27 384.90v2.6M155.13 514.40v-2.6M155.13 384.90v2.6M39.40 492.82h2.6M213.00 492.82h-2.6M39.40 471.23h2.6M213.00 471.23h-2.6M39.40 449.65h2.6M213.00 449.65h-2.6M39.40 428.07h2.6M213.00 428.07h-2.6M39.40 406.48h2.6M213.00 406.48h-2.6" stroke="#1c1c1c" stroke-width="1.2" fill="none"/><text x="39.40" y="528.00" class="tl" text-anchor="middle">0</text><text x="97.27" y="528.00" class="tl" text-anchor="middle">5</text><text x="155.13" y="528.00" class="tl" text-anchor="middle">10</text><text x="213.00" y="528.00" class="tl" text-anchor="middle">15</text><text x="36.40" y="518.30" class="tl" text-anchor="end">0</text><text x="36.40" y="496.72" class="tl" text-anchor="end">20</text><text x="36.40" y="475.13" class="tl" text-anchor="end">40</text><text x="36.40" y="453.55" class="tl" text-anchor="end">60</text><text x="36.40" y="431.97" class="tl" text-anchor="end">80</text><text x="36.40" y="410.38" class="tl" text-anchor="end">100</text><text x="36.40" y="388.80" class="tl" text-anchor="end">120</text><text x="126.20" y="543.20" class="al" text-anchor="middle">time (s)</text><text transform="translate(15.50,449.65) rotate(-90)" x="0" y="0" class="al" text-anchor="middle">Speed (km/h)</text><text x="6.6" y="390.50" class="pl">(e)</text><text transform="translate(62.50,410.50) scale(0.93,1)" class="st">slope</text><text transform="translate(86.30,410.50) scale(0.93,1)" class="st">:</text><text transform="translate(95.60,410.50) scale(0.93,1)" class="st">6</text><text transform="translate(101.80,410.50) scale(0.86,1)" class="st">%</text><rect x="168.30" y="486.50" width="40.4" height="23.6" fill="#fff" stroke="#1a1a1a" stroke-width="0.9"/><path d="M169.90 492.80h16.3" stroke="#0072BD" stroke-width="1.6"/><path d="M169.90 504.20h16.3" stroke="#D95319" stroke-width="1.6"/><text x="187.80" y="496.60" class="lg">EVT</text><text x="187.80" y="507.70" class="lg">EV</text><clipPath id="c21"><rect x="264.9" y="384.9" width="178.10000000000002" height="129.5"/></clipPath><path d="M276.03 384.90V514.40M287.16 384.90V514.40M298.29 384.90V514.40M309.42 384.90V514.40M320.56 384.90V514.40M331.69 384.90V514.40M342.82 384.90V514.40M353.95 384.90V514.40M365.08 384.90V514.40M376.21 384.90V514.40M387.34 384.90V514.40M398.48 384.90V514.40M409.61 384.90V514.40M420.74 384.90V514.40M431.87 384.90V514.40" stroke="#000" stroke-opacity="0.165" stroke-width="1" fill="none"/><path d="M264.90 503.61H443.00M264.90 492.82H443.00M264.90 482.02H443.00M264.90 471.23H443.00M264.90 460.44H443.00M264.90 449.65H443.00M264.90 438.86H443.00M264.90 428.07H443.00M264.90 417.27H443.00M264.90 406.48H443.00M264.90 395.69H443.00" stroke="#000" stroke-opacity="0.165" stroke-width="1" fill="none"/><polyline points="264.90,514.40 265.37,514.37 265.85,514.33 266.32,514.27 266.80,514.20 267.27,514.12 267.75,514.02 268.22,513.91 268.69,513.79 269.17,513.65 269.64,513.51 270.12,513.35 270.59,513.18 271.07,512.99 271.54,512.80 272.01,512.59 272.49,512.38 272.96,512.15 273.44,511.91 273.91,511.66 274.39,511.40 274.86,511.13 275.33,510.85 275.81,510.56 276.28,510.26 276.76,509.94 277.23,509.62 277.71,509.29 278.18,508.96 278.65,508.61 279.13,508.25 279.60,507.89 280.08,507.51 280.55,507.13 281.02,506.74 281.50,506.34 281.97,505.94 282.45,505.53 282.92,505.10 283.40,504.68 283.87,504.24 284.34,503.80 284.82,503.35 285.29,502.90 285.77,502.44 286.24,501.97 286.72,501.50 287.19,501.02 287.66,500.53 288.14,500.04 288.61,499.55 289.09,499.05 289.56,498.54 290.04,498.03 290.51,497.52 290.98,497.00 291.46,496.48 291.93,495.95 292.41,495.42 292.88,494.88 293.36,494.34 293.83,493.80 294.30,493.26 294.78,492.71 295.25,492.16 295.73,491.61 296.20,491.05 296.68,490.49 297.15,489.93 297.62,489.37 298.10,488.80 298.57,488.23 299.05,487.66 299.52,487.09 300.00,486.51 300.47,485.94 300.94,485.36 301.42,484.78 301.89,484.20 302.37,483.61 302.84,483.03 303.32,482.44 303.79,481.86 304.26,481.27 304.74,480.68 305.21,480.09 305.69,479.49 306.16,478.90 306.64,478.31 307.11,477.71 307.58,477.12 308.06,476.53 308.53,475.93 309.01,475.33 309.48,474.74 309.96,474.14 310.43,473.55 310.90,472.95 311.38,472.36 311.85,471.76 312.33,471.16 312.80,470.57 313.27,469.97 313.75,469.37 314.22,468.78 314.70,468.18 315.17,467.58 315.65,466.99 316.12,466.39 316.59,465.79 317.07,465.19 317.54,464.60 318.02,464.00 318.49,463.40 318.97,462.80 319.44,462.21 319.91,461.61 320.39,461.01 320.86,460.41 321.34,459.81 321.81,459.21 322.29,458.62 322.76,458.02 323.23,457.42 323.71,456.82 324.18,456.22 324.66,455.62 325.13,455.02 325.61,454.42 326.08,453.82 326.55,453.22 327.03,452.62 327.50,452.02 327.98,451.42 328.45,450.82 328.93,450.22 329.40,449.62 329.87,449.02 330.35,448.42 330.82,447.82 331.30,447.22 331.77,446.62 332.25,446.01 332.72,445.41 333.19,444.81 333.67,444.21 334.14,443.61 334.62,443.00 335.09,442.40 335.57,441.80 336.04,441.20 336.51,440.60 336.99,439.99 337.46,439.39 337.94,438.79 338.41,438.18 338.89,437.58 339.36,436.98 339.83,436.37 340.31,435.77 340.78,435.17 341.26,434.56 341.73,433.96 342.20,433.36 342.68,432.76 343.15,432.15 343.63,431.55 344.10,430.95 344.58,430.35 345.05,429.75 345.52,429.15 346.00,428.55 346.47,427.96 346.95,427.36 347.42,426.76 347.90,426.17 348.37,425.58 348.84,424.98 349.32,424.39 349.79,423.80 350.27,423.21 350.74,422.63 351.22,422.04 351.69,421.46 352.16,420.87 352.64,420.29 353.11,419.71 353.59,419.13 354.06,418.56 354.54,417.98 355.01,417.41 355.48,416.84 355.96,416.27 356.43,415.70 356.91,415.14 357.38,414.58 357.86,414.02 358.33,413.46 358.80,412.91 359.28,412.35 359.75,411.80 360.23,411.25 360.70,410.71 361.18,410.17 361.65,409.63 362.12,409.09 362.60,408.56 363.07,408.02 363.55,407.50 364.02,406.97 364.50,406.45 364.97,405.93 365.44,405.41 365.92,404.90 366.39,404.39 366.87,403.88 367.34,403.38 367.82,402.87 368.29,402.37 368.76,401.88 369.24,401.38 369.71,400.89 370.19,400.40 370.66,399.92 371.14,399.43 371.61,398.95 372.08,398.48 372.56,398.00 373.03,397.53 373.51,397.06 373.98,396.59 374.45,396.12 374.93,395.66 375.40,395.20 375.88,394.74 376.35,394.28 376.83,393.83 377.30,393.38 377.77,392.93 378.25,392.48 378.72,392.04 379.20,391.59 379.67,391.15 380.15,390.72 380.62,390.28 381.09,389.84 381.57,389.41 382.04,388.98 382.52,388.55 382.99,388.13 383.47,387.70 383.94,387.28 384.41,386.86 384.89,386.44 385.36,386.02 385.84,385.61 386.31,385.20 386.79,384.78 387.26,384.37 387.73,383.97 388.21,383.56 388.68,383.15 389.16,382.75 389.63,382.35 390.11,381.95 390.58,381.55 391.05,381.15 391.53,380.76 392.00,380.36 392.48,379.97 392.95,379.58 393.43,379.19 393.90,378.80 394.37,378.41 394.85,378.03 395.32,377.64 395.80,377.26 396.27,376.88 396.75,376.50 397.22,376.12 397.69,375.74 398.17,375.36 398.64,374.98 399.12,374.61 399.59,374.23 400.07,373.86 400.54,373.49 401.01,373.12 401.49,372.75 401.96,372.38 402.44,372.01 402.91,371.64 403.39,371.27 403.86,370.91 404.33,370.54 404.81,370.18 405.28,369.81 405.76,369.45 406.23,369.09 406.70,368.72 407.18,368.36 407.65,368.00 408.13,367.64 408.60,367.28 409.08,366.92 409.55,366.56 410.02,366.20 410.50,365.85 410.97,365.49 411.45,365.13 411.92,364.78 412.40,364.42 412.87,364.06 413.34,363.71 413.82,363.35 414.29,363.00 414.77,362.65 415.24,362.29 415.72,361.94 416.19,361.59 416.66,361.24 417.14,360.89 417.61,360.54 418.09,360.19 418.56,359.84 419.04,359.49 419.51,359.14 419.98,358.79 420.46,358.45 420.93,358.10 421.41,357.75 421.88,357.41 422.36,357.07 422.83,356.72 423.30,356.38 423.78,356.04 424.25,355.69 424.73,355.35 425.20,355.01 425.68,354.67 426.15,354.33 426.62,354.00 427.10,353.66 427.57,353.32 428.05,352.98 428.52,352.65 429.00,352.31 429.47,351.98 429.94,351.65 430.42,351.31 430.89,350.98 431.37,350.65 431.84,350.32 432.32,349.99 432.79,349.66 433.26,349.33 433.74,349.01 434.21,348.68 434.69,348.36 435.16,348.03 435.63,347.71 436.11,347.38 436.58,347.06 437.06,346.74 437.53,346.42 438.01,346.10 438.48,345.78 438.95,345.46 439.43,345.15 439.90,344.83 440.38,344.51 440.85,344.20 441.33,343.89 441.80,343.57 442.27,343.26 442.75,342.95 443.22,342.64 443.70,342.33 444.17,342.02 444.65,341.72 445.12,341.41 445.59,341.11 446.07,340.80 446.54,340.50 447.02,340.20 447.49,339.89 447.97,339.59 448.44,339.30 448.91,339.00 449.39,338.70 449.86,338.40 450.34,338.11 450.81,337.82 451.29,337.52 451.76,337.23 452.23,336.94 452.71,336.65 453.18,336.36 453.66,336.07 454.13,335.79" fill="none" stroke="#0072BD" stroke-width="1.6" clip-path="url(#c21)"/><polyline points="264.90,514.40 265.37,514.38 265.85,514.36 266.32,514.34 266.80,514.31 267.27,514.29 267.75,514.26 268.22,514.23 268.69,514.19 269.17,514.16 269.64,514.12 270.12,514.08 270.59,514.04 271.07,514.00 271.54,513.96 272.01,513.91 272.49,513.86 272.96,513.81 273.44,513.75 273.91,513.70 274.39,513.64 274.86,513.58 275.33,513.51 275.81,513.45 276.28,513.38 276.76,513.31 277.23,513.24 277.71,513.16 278.18,513.08 278.65,513.00 279.13,512.92 279.60,512.84 280.08,512.75 280.55,512.66 281.02,512.57 281.50,512.47 281.97,512.38 282.45,512.28 282.92,512.17 283.40,512.07 283.87,511.96 284.34,511.85 284.82,511.74 285.29,511.62 285.77,511.50 286.24,511.38 286.72,511.26 287.19,511.13 287.66,511.00 288.14,510.87 288.61,510.74 289.09,510.60 289.56,510.46 290.04,510.31 290.51,510.17 290.98,510.02 291.46,509.87 291.93,509.71 292.41,509.55 292.88,509.39 293.36,509.23 293.83,509.06 294.30,508.89 294.78,508.72 295.25,508.54 295.73,508.36 296.20,508.18 296.68,508.00 297.15,507.81 297.62,507.62 298.10,507.42 298.57,507.22 299.05,507.02 299.52,506.82 300.00,506.61 300.47,506.40 300.94,506.19 301.42,505.97 301.89,505.75 302.37,505.53 302.84,505.30 303.32,505.07 303.79,504.84 304.26,504.60 304.74,504.36 305.21,504.11 305.69,503.87 306.16,503.62 306.64,503.36 307.11,503.10 307.58,502.84 308.06,502.58 308.53,502.31 309.01,502.04 309.48,501.76 309.96,501.49 310.43,501.20 310.90,500.92 311.38,500.63 311.85,500.34 312.33,500.05 312.80,499.75 313.27,499.45 313.75,499.15 314.22,498.85 314.70,498.54 315.17,498.23 315.65,497.92 316.12,497.60 316.59,497.29 317.07,496.97 317.54,496.64 318.02,496.32 318.49,495.99 318.97,495.66 319.44,495.33 319.91,495.00 320.39,494.66 320.86,494.33 321.34,493.99 321.81,493.65 322.29,493.30 322.76,492.96 323.23,492.61 323.71,492.26 324.18,491.91 324.66,491.56 325.13,491.21 325.61,490.86 326.08,490.50 326.55,490.14 327.03,489.79 327.50,489.43 327.98,489.06 328.45,488.70 328.93,488.34 329.40,487.98 329.87,487.61 330.35,487.24 330.82,486.88 331.30,486.51 331.77,486.14 332.25,485.77 332.72,485.40 333.19,485.03 333.67,484.66 334.14,484.29 334.62,483.92 335.09,483.55 335.57,483.17 336.04,482.80 336.51,482.43 336.99,482.05 337.46,481.68 337.94,481.31 338.41,480.93 338.89,480.56 339.36,480.18 339.83,479.81 340.31,479.44 340.78,479.06 341.26,478.69 341.73,478.31 342.20,477.94 342.68,477.56 343.15,477.19 343.63,476.81 344.10,476.43 344.58,476.06 345.05,475.68 345.52,475.31 346.00,474.93 346.47,474.55 346.95,474.18 347.42,473.80 347.90,473.42 348.37,473.05 348.84,472.67 349.32,472.29 349.79,471.91 350.27,471.54 350.74,471.16 351.22,470.78 351.69,470.40 352.16,470.02 352.64,469.64 353.11,469.27 353.59,468.89 354.06,468.51 354.54,468.13 355.01,467.75 355.48,467.37 355.96,466.99 356.43,466.61 356.91,466.23 357.38,465.85 357.86,465.47 358.33,465.09 358.80,464.71 359.28,464.32 359.75,463.94 360.23,463.56 360.70,463.18 361.18,462.80 361.65,462.42 362.12,462.03 362.60,461.65 363.07,461.27 363.55,460.89 364.02,460.50 364.50,460.12 364.97,459.74 365.44,459.35 365.92,458.97 366.39,458.59 366.87,458.20 367.34,457.82 367.82,457.43 368.29,457.05 368.76,456.66 369.24,456.28 369.71,455.89 370.19,455.51 370.66,455.12 371.14,454.74 371.61,454.35 372.08,453.97 372.56,453.58 373.03,453.19 373.51,452.81 373.98,452.42 374.45,452.03 374.93,451.65 375.40,451.26 375.88,450.87 376.35,450.48 376.83,450.09 377.30,449.71 377.77,449.32 378.25,448.93 378.72,448.54 379.20,448.15 379.67,447.76 380.15,447.37 380.62,446.98 381.09,446.59 381.57,446.20 382.04,445.81 382.52,445.42 382.99,445.03 383.47,444.64 383.94,444.25 384.41,443.86 384.89,443.47 385.36,443.07 385.84,442.68 386.31,442.29 386.79,441.90 387.26,441.51 387.73,441.11 388.21,440.72 388.68,440.33 389.16,439.93 389.63,439.54 390.11,439.15 390.58,438.75 391.05,438.36 391.53,437.96 392.00,437.57 392.48,437.17 392.95,436.78 393.43,436.38 393.90,435.99 394.37,435.59 394.85,435.19 395.32,434.80 395.80,434.40 396.27,434.00 396.75,433.61 397.22,433.21 397.69,432.81 398.17,432.42 398.64,432.02 399.12,431.62 399.59,431.22 400.07,430.82 400.54,430.42 401.01,430.02 401.49,429.63 401.96,429.23 402.44,428.83 402.91,428.43 403.39,428.03 403.86,427.63 404.33,427.22 404.81,426.82 405.28,426.42 405.76,426.02 406.23,425.62 406.70,425.22 407.18,424.82 407.65,424.41 408.13,424.01 408.60,423.61 409.08,423.21 409.55,422.80 410.02,422.40 410.50,421.99 410.97,421.59 411.45,421.19 411.92,420.78 412.40,420.38 412.87,419.97 413.34,419.57 413.82,419.16 414.29,418.76 414.77,418.35 415.24,417.94 415.72,417.54 416.19,417.13 416.66,416.72 417.14,416.32 417.61,415.91 418.09,415.50 418.56,415.09 419.04,414.69 419.51,414.28 419.98,413.87 420.46,413.46 420.93,413.05 421.41,412.64 421.88,412.23 422.36,411.83 422.83,411.42 423.30,411.01 423.78,410.60 424.25,410.19 424.73,409.78 425.20,409.37 425.68,408.96 426.15,408.55 426.62,408.14 427.10,407.73 427.57,407.32 428.05,406.91 428.52,406.50 429.00,406.09 429.47,405.68 429.94,405.27 430.42,404.86 430.89,404.45 431.37,404.04 431.84,403.63 432.32,403.21 432.79,402.80 433.26,402.39 433.74,401.98 434.21,401.57 434.69,401.16 435.16,400.75 435.63,400.35 436.11,399.94 436.58,399.53 437.06,399.12 437.53,398.71 438.01,398.30 438.48,397.89 438.95,397.48 439.43,397.07 439.90,396.66 440.38,396.26 440.85,395.85 441.33,395.44 441.80,395.03 442.27,394.62 442.75,394.22 443.22,393.81 443.70,393.40 444.17,393.00 444.65,392.59 445.12,392.18 445.59,391.78 446.07,391.37 446.54,390.97 447.02,390.56 447.49,390.16 447.97,389.75 448.44,389.35 448.91,388.95 449.39,388.54 449.86,388.14 450.34,387.74 450.81,387.34 451.29,386.93 451.76,386.53 452.23,386.13 452.71,385.73 453.18,385.33 453.66,384.93 454.13,384.53" fill="none" stroke="#D95319" stroke-width="1.6" clip-path="url(#c21)"/><rect x="264.9" y="384.9" width="178.10000000000002" height="129.5" fill="none" stroke="#1c1c1c" stroke-width="1.35"/><path d="M309.42 514.40v-2.6M309.42 384.90v2.6M353.95 514.40v-2.6M353.95 384.90v2.6M398.48 514.40v-2.6M398.48 384.90v2.6M264.90 471.23h2.6M443.00 471.23h-2.6M264.90 428.07h2.6M443.00 428.07h-2.6" stroke="#1c1c1c" stroke-width="1.2" fill="none"/><text x="264.90" y="528.00" class="tl" text-anchor="middle">0</text><text x="309.42" y="528.00" class="tl" text-anchor="middle">2</text><text x="353.95" y="528.00" class="tl" text-anchor="middle">4</text><text x="398.48" y="528.00" class="tl" text-anchor="middle">6</text><text x="443.00" y="528.00" class="tl" text-anchor="middle">8</text><text x="261.30" y="518.30" class="tl" text-anchor="end">0</text><text x="261.30" y="475.13" class="tl" text-anchor="end">20</text><text x="261.30" y="431.97" class="tl" text-anchor="end">40</text><text x="261.30" y="388.80" class="tl" text-anchor="end">60</text><text x="353.95" y="543.20" class="al" text-anchor="middle">time (s)</text><text transform="translate(246.00,449.65) rotate(-90)" x="0" y="0" class="al" text-anchor="middle">Speed (km/h)</text><text x="236.5" y="390.50" class="pl">(f)</text><text transform="translate(286.90,410.50) scale(0.93,1)" class="st">slope</text><text transform="translate(310.70,410.50) scale(0.93,1)" class="st">:</text><text transform="translate(320.00,410.50) scale(0.93,1)" class="st">6</text><text transform="translate(326.20,410.50) scale(0.86,1)" class="st">%</text><rect x="398.30" y="486.50" width="40.4" height="23.6" fill="#fff" stroke="#1a1a1a" stroke-width="0.9"/><path d="M399.90 492.80h16.3" stroke="#0072BD" stroke-width="1.6"/><path d="M399.90 504.20h16.3" stroke="#D95319" stroke-width="1.6"/><text x="417.80" y="496.60" class="lg">EVT</text><text x="417.80" y="507.70" class="lg">EV</text></svg></body></html>
